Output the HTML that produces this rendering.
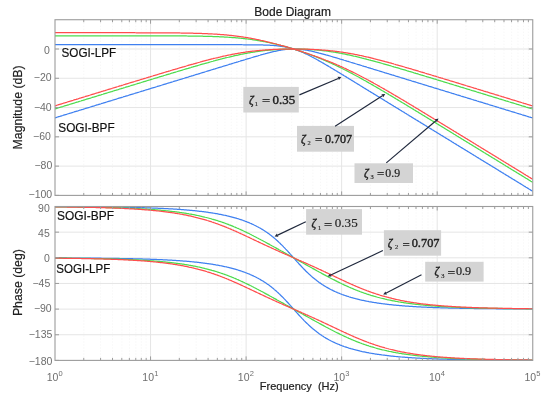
<!DOCTYPE html>
<html><head><meta charset="utf-8"><style>html,body{margin:0;padding:0;background:#fff;overflow:hidden}svg{display:block}</style></head>
<body><svg width="550" height="394" viewBox="0 0 550 394">
<defs><clipPath id="cm"><rect x="55.0" y="19.72" width="477.75" height="175.68"/></clipPath><clipPath id="cp"><rect x="55.0" y="206.5" width="477.75" height="153.89999999999998"/></clipPath></defs>
<rect width="550" height="394" fill="#fff"/>
<line x1="83.76" y1="19.72" x2="83.76" y2="195.4" stroke="#f1f1f1" stroke-width="0.8" stroke-dasharray="1,2"/>
<line x1="100.59" y1="19.72" x2="100.59" y2="195.4" stroke="#f1f1f1" stroke-width="0.8" stroke-dasharray="1,2"/>
<line x1="112.53" y1="19.72" x2="112.53" y2="195.4" stroke="#f1f1f1" stroke-width="0.8" stroke-dasharray="1,2"/>
<line x1="121.79" y1="19.72" x2="121.79" y2="195.4" stroke="#f1f1f1" stroke-width="0.8" stroke-dasharray="1,2"/>
<line x1="129.35" y1="19.72" x2="129.35" y2="195.4" stroke="#f1f1f1" stroke-width="0.8" stroke-dasharray="1,2"/>
<line x1="135.75" y1="19.72" x2="135.75" y2="195.4" stroke="#f1f1f1" stroke-width="0.8" stroke-dasharray="1,2"/>
<line x1="141.29" y1="19.72" x2="141.29" y2="195.4" stroke="#f1f1f1" stroke-width="0.8" stroke-dasharray="1,2"/>
<line x1="146.18" y1="19.72" x2="146.18" y2="195.4" stroke="#f1f1f1" stroke-width="0.8" stroke-dasharray="1,2"/>
<line x1="179.31" y1="19.72" x2="179.31" y2="195.4" stroke="#f1f1f1" stroke-width="0.8" stroke-dasharray="1,2"/>
<line x1="196.14" y1="19.72" x2="196.14" y2="195.4" stroke="#f1f1f1" stroke-width="0.8" stroke-dasharray="1,2"/>
<line x1="208.08" y1="19.72" x2="208.08" y2="195.4" stroke="#f1f1f1" stroke-width="0.8" stroke-dasharray="1,2"/>
<line x1="217.34" y1="19.72" x2="217.34" y2="195.4" stroke="#f1f1f1" stroke-width="0.8" stroke-dasharray="1,2"/>
<line x1="224.90" y1="19.72" x2="224.90" y2="195.4" stroke="#f1f1f1" stroke-width="0.8" stroke-dasharray="1,2"/>
<line x1="231.30" y1="19.72" x2="231.30" y2="195.4" stroke="#f1f1f1" stroke-width="0.8" stroke-dasharray="1,2"/>
<line x1="236.84" y1="19.72" x2="236.84" y2="195.4" stroke="#f1f1f1" stroke-width="0.8" stroke-dasharray="1,2"/>
<line x1="241.73" y1="19.72" x2="241.73" y2="195.4" stroke="#f1f1f1" stroke-width="0.8" stroke-dasharray="1,2"/>
<line x1="274.86" y1="19.72" x2="274.86" y2="195.4" stroke="#f1f1f1" stroke-width="0.8" stroke-dasharray="1,2"/>
<line x1="291.69" y1="19.72" x2="291.69" y2="195.4" stroke="#f1f1f1" stroke-width="0.8" stroke-dasharray="1,2"/>
<line x1="303.63" y1="19.72" x2="303.63" y2="195.4" stroke="#f1f1f1" stroke-width="0.8" stroke-dasharray="1,2"/>
<line x1="312.89" y1="19.72" x2="312.89" y2="195.4" stroke="#f1f1f1" stroke-width="0.8" stroke-dasharray="1,2"/>
<line x1="320.45" y1="19.72" x2="320.45" y2="195.4" stroke="#f1f1f1" stroke-width="0.8" stroke-dasharray="1,2"/>
<line x1="326.85" y1="19.72" x2="326.85" y2="195.4" stroke="#f1f1f1" stroke-width="0.8" stroke-dasharray="1,2"/>
<line x1="332.39" y1="19.72" x2="332.39" y2="195.4" stroke="#f1f1f1" stroke-width="0.8" stroke-dasharray="1,2"/>
<line x1="337.28" y1="19.72" x2="337.28" y2="195.4" stroke="#f1f1f1" stroke-width="0.8" stroke-dasharray="1,2"/>
<line x1="370.41" y1="19.72" x2="370.41" y2="195.4" stroke="#f1f1f1" stroke-width="0.8" stroke-dasharray="1,2"/>
<line x1="387.24" y1="19.72" x2="387.24" y2="195.4" stroke="#f1f1f1" stroke-width="0.8" stroke-dasharray="1,2"/>
<line x1="399.18" y1="19.72" x2="399.18" y2="195.4" stroke="#f1f1f1" stroke-width="0.8" stroke-dasharray="1,2"/>
<line x1="408.44" y1="19.72" x2="408.44" y2="195.4" stroke="#f1f1f1" stroke-width="0.8" stroke-dasharray="1,2"/>
<line x1="416.00" y1="19.72" x2="416.00" y2="195.4" stroke="#f1f1f1" stroke-width="0.8" stroke-dasharray="1,2"/>
<line x1="422.40" y1="19.72" x2="422.40" y2="195.4" stroke="#f1f1f1" stroke-width="0.8" stroke-dasharray="1,2"/>
<line x1="427.94" y1="19.72" x2="427.94" y2="195.4" stroke="#f1f1f1" stroke-width="0.8" stroke-dasharray="1,2"/>
<line x1="432.83" y1="19.72" x2="432.83" y2="195.4" stroke="#f1f1f1" stroke-width="0.8" stroke-dasharray="1,2"/>
<line x1="465.96" y1="19.72" x2="465.96" y2="195.4" stroke="#f1f1f1" stroke-width="0.8" stroke-dasharray="1,2"/>
<line x1="482.79" y1="19.72" x2="482.79" y2="195.4" stroke="#f1f1f1" stroke-width="0.8" stroke-dasharray="1,2"/>
<line x1="494.73" y1="19.72" x2="494.73" y2="195.4" stroke="#f1f1f1" stroke-width="0.8" stroke-dasharray="1,2"/>
<line x1="503.99" y1="19.72" x2="503.99" y2="195.4" stroke="#f1f1f1" stroke-width="0.8" stroke-dasharray="1,2"/>
<line x1="511.55" y1="19.72" x2="511.55" y2="195.4" stroke="#f1f1f1" stroke-width="0.8" stroke-dasharray="1,2"/>
<line x1="517.95" y1="19.72" x2="517.95" y2="195.4" stroke="#f1f1f1" stroke-width="0.8" stroke-dasharray="1,2"/>
<line x1="523.49" y1="19.72" x2="523.49" y2="195.4" stroke="#f1f1f1" stroke-width="0.8" stroke-dasharray="1,2"/>
<line x1="528.38" y1="19.72" x2="528.38" y2="195.4" stroke="#f1f1f1" stroke-width="0.8" stroke-dasharray="1,2"/>
<line x1="150.55" y1="19.72" x2="150.55" y2="195.4" stroke="#e5e5e5" stroke-width="1"/>
<line x1="246.10" y1="19.72" x2="246.10" y2="195.4" stroke="#e5e5e5" stroke-width="1"/>
<line x1="341.65" y1="19.72" x2="341.65" y2="195.4" stroke="#e5e5e5" stroke-width="1"/>
<line x1="437.20" y1="19.72" x2="437.20" y2="195.4" stroke="#e5e5e5" stroke-width="1"/>
<line x1="55.0" y1="49.00" x2="532.75" y2="49.00" stroke="#e5e5e5" stroke-width="1"/>
<line x1="55.0" y1="78.28" x2="532.75" y2="78.28" stroke="#e5e5e5" stroke-width="1"/>
<line x1="55.0" y1="107.56" x2="532.75" y2="107.56" stroke="#e5e5e5" stroke-width="1"/>
<line x1="55.0" y1="136.84" x2="532.75" y2="136.84" stroke="#e5e5e5" stroke-width="1"/>
<line x1="55.0" y1="166.12" x2="532.75" y2="166.12" stroke="#e5e5e5" stroke-width="1"/>
<line x1="83.76" y1="206.5" x2="83.76" y2="360.4" stroke="#f1f1f1" stroke-width="0.8" stroke-dasharray="1,2"/>
<line x1="100.59" y1="206.5" x2="100.59" y2="360.4" stroke="#f1f1f1" stroke-width="0.8" stroke-dasharray="1,2"/>
<line x1="112.53" y1="206.5" x2="112.53" y2="360.4" stroke="#f1f1f1" stroke-width="0.8" stroke-dasharray="1,2"/>
<line x1="121.79" y1="206.5" x2="121.79" y2="360.4" stroke="#f1f1f1" stroke-width="0.8" stroke-dasharray="1,2"/>
<line x1="129.35" y1="206.5" x2="129.35" y2="360.4" stroke="#f1f1f1" stroke-width="0.8" stroke-dasharray="1,2"/>
<line x1="135.75" y1="206.5" x2="135.75" y2="360.4" stroke="#f1f1f1" stroke-width="0.8" stroke-dasharray="1,2"/>
<line x1="141.29" y1="206.5" x2="141.29" y2="360.4" stroke="#f1f1f1" stroke-width="0.8" stroke-dasharray="1,2"/>
<line x1="146.18" y1="206.5" x2="146.18" y2="360.4" stroke="#f1f1f1" stroke-width="0.8" stroke-dasharray="1,2"/>
<line x1="179.31" y1="206.5" x2="179.31" y2="360.4" stroke="#f1f1f1" stroke-width="0.8" stroke-dasharray="1,2"/>
<line x1="196.14" y1="206.5" x2="196.14" y2="360.4" stroke="#f1f1f1" stroke-width="0.8" stroke-dasharray="1,2"/>
<line x1="208.08" y1="206.5" x2="208.08" y2="360.4" stroke="#f1f1f1" stroke-width="0.8" stroke-dasharray="1,2"/>
<line x1="217.34" y1="206.5" x2="217.34" y2="360.4" stroke="#f1f1f1" stroke-width="0.8" stroke-dasharray="1,2"/>
<line x1="224.90" y1="206.5" x2="224.90" y2="360.4" stroke="#f1f1f1" stroke-width="0.8" stroke-dasharray="1,2"/>
<line x1="231.30" y1="206.5" x2="231.30" y2="360.4" stroke="#f1f1f1" stroke-width="0.8" stroke-dasharray="1,2"/>
<line x1="236.84" y1="206.5" x2="236.84" y2="360.4" stroke="#f1f1f1" stroke-width="0.8" stroke-dasharray="1,2"/>
<line x1="241.73" y1="206.5" x2="241.73" y2="360.4" stroke="#f1f1f1" stroke-width="0.8" stroke-dasharray="1,2"/>
<line x1="274.86" y1="206.5" x2="274.86" y2="360.4" stroke="#f1f1f1" stroke-width="0.8" stroke-dasharray="1,2"/>
<line x1="291.69" y1="206.5" x2="291.69" y2="360.4" stroke="#f1f1f1" stroke-width="0.8" stroke-dasharray="1,2"/>
<line x1="303.63" y1="206.5" x2="303.63" y2="360.4" stroke="#f1f1f1" stroke-width="0.8" stroke-dasharray="1,2"/>
<line x1="312.89" y1="206.5" x2="312.89" y2="360.4" stroke="#f1f1f1" stroke-width="0.8" stroke-dasharray="1,2"/>
<line x1="320.45" y1="206.5" x2="320.45" y2="360.4" stroke="#f1f1f1" stroke-width="0.8" stroke-dasharray="1,2"/>
<line x1="326.85" y1="206.5" x2="326.85" y2="360.4" stroke="#f1f1f1" stroke-width="0.8" stroke-dasharray="1,2"/>
<line x1="332.39" y1="206.5" x2="332.39" y2="360.4" stroke="#f1f1f1" stroke-width="0.8" stroke-dasharray="1,2"/>
<line x1="337.28" y1="206.5" x2="337.28" y2="360.4" stroke="#f1f1f1" stroke-width="0.8" stroke-dasharray="1,2"/>
<line x1="370.41" y1="206.5" x2="370.41" y2="360.4" stroke="#f1f1f1" stroke-width="0.8" stroke-dasharray="1,2"/>
<line x1="387.24" y1="206.5" x2="387.24" y2="360.4" stroke="#f1f1f1" stroke-width="0.8" stroke-dasharray="1,2"/>
<line x1="399.18" y1="206.5" x2="399.18" y2="360.4" stroke="#f1f1f1" stroke-width="0.8" stroke-dasharray="1,2"/>
<line x1="408.44" y1="206.5" x2="408.44" y2="360.4" stroke="#f1f1f1" stroke-width="0.8" stroke-dasharray="1,2"/>
<line x1="416.00" y1="206.5" x2="416.00" y2="360.4" stroke="#f1f1f1" stroke-width="0.8" stroke-dasharray="1,2"/>
<line x1="422.40" y1="206.5" x2="422.40" y2="360.4" stroke="#f1f1f1" stroke-width="0.8" stroke-dasharray="1,2"/>
<line x1="427.94" y1="206.5" x2="427.94" y2="360.4" stroke="#f1f1f1" stroke-width="0.8" stroke-dasharray="1,2"/>
<line x1="432.83" y1="206.5" x2="432.83" y2="360.4" stroke="#f1f1f1" stroke-width="0.8" stroke-dasharray="1,2"/>
<line x1="465.96" y1="206.5" x2="465.96" y2="360.4" stroke="#f1f1f1" stroke-width="0.8" stroke-dasharray="1,2"/>
<line x1="482.79" y1="206.5" x2="482.79" y2="360.4" stroke="#f1f1f1" stroke-width="0.8" stroke-dasharray="1,2"/>
<line x1="494.73" y1="206.5" x2="494.73" y2="360.4" stroke="#f1f1f1" stroke-width="0.8" stroke-dasharray="1,2"/>
<line x1="503.99" y1="206.5" x2="503.99" y2="360.4" stroke="#f1f1f1" stroke-width="0.8" stroke-dasharray="1,2"/>
<line x1="511.55" y1="206.5" x2="511.55" y2="360.4" stroke="#f1f1f1" stroke-width="0.8" stroke-dasharray="1,2"/>
<line x1="517.95" y1="206.5" x2="517.95" y2="360.4" stroke="#f1f1f1" stroke-width="0.8" stroke-dasharray="1,2"/>
<line x1="523.49" y1="206.5" x2="523.49" y2="360.4" stroke="#f1f1f1" stroke-width="0.8" stroke-dasharray="1,2"/>
<line x1="528.38" y1="206.5" x2="528.38" y2="360.4" stroke="#f1f1f1" stroke-width="0.8" stroke-dasharray="1,2"/>
<line x1="150.55" y1="206.5" x2="150.55" y2="360.4" stroke="#e5e5e5" stroke-width="1"/>
<line x1="246.10" y1="206.5" x2="246.10" y2="360.4" stroke="#e5e5e5" stroke-width="1"/>
<line x1="341.65" y1="206.5" x2="341.65" y2="360.4" stroke="#e5e5e5" stroke-width="1"/>
<line x1="437.20" y1="206.5" x2="437.20" y2="360.4" stroke="#e5e5e5" stroke-width="1"/>
<line x1="55.0" y1="232.15" x2="532.75" y2="232.15" stroke="#e5e5e5" stroke-width="1"/>
<line x1="55.0" y1="257.80" x2="532.75" y2="257.80" stroke="#e5e5e5" stroke-width="1"/>
<line x1="55.0" y1="283.45" x2="532.75" y2="283.45" stroke="#e5e5e5" stroke-width="1"/>
<line x1="55.0" y1="309.10" x2="532.75" y2="309.10" stroke="#e5e5e5" stroke-width="1"/>
<line x1="55.0" y1="334.75" x2="532.75" y2="334.75" stroke="#e5e5e5" stroke-width="1"/>
<polyline points="55.0,44.72 56.0,44.72 56.9,44.72 57.9,44.72 58.8,44.72 59.8,44.72 60.7,44.72 61.7,44.72 62.7,44.72 63.6,44.72 64.6,44.72 65.5,44.72 66.5,44.72 67.4,44.72 68.4,44.72 69.4,44.72 70.3,44.72 71.3,44.72 72.2,44.72 73.2,44.72 74.1,44.72 75.1,44.72 76.1,44.72 77.0,44.72 78.0,44.72 78.9,44.72 79.9,44.72 80.9,44.72 81.8,44.72 82.8,44.72 83.7,44.72 84.7,44.72 85.6,44.72 86.6,44.72 87.6,44.72 88.5,44.72 89.5,44.72 90.4,44.72 91.4,44.72 92.3,44.72 93.3,44.72 94.3,44.72 95.2,44.72 96.2,44.72 97.1,44.72 98.1,44.72 99.0,44.72 100.0,44.72 101.0,44.72 101.9,44.72 102.9,44.72 103.8,44.72 104.8,44.72 105.7,44.72 106.7,44.72 107.7,44.72 108.6,44.72 109.6,44.72 110.5,44.72 111.5,44.72 112.4,44.72 113.4,44.72 114.4,44.72 115.3,44.72 116.3,44.72 117.2,44.72 118.2,44.72 119.1,44.72 120.1,44.72 121.1,44.72 122.0,44.72 123.0,44.72 123.9,44.72 124.9,44.72 125.8,44.72 126.8,44.72 127.8,44.72 128.7,44.72 129.7,44.72 130.6,44.72 131.6,44.72 132.6,44.72 133.5,44.72 134.5,44.72 135.4,44.72 136.4,44.72 137.3,44.72 138.3,44.72 139.3,44.72 140.2,44.72 141.2,44.72 142.1,44.72 143.1,44.72 144.0,44.72 145.0,44.72 146.0,44.72 146.9,44.72 147.9,44.72 148.8,44.72 149.8,44.72 150.7,44.72 151.7,44.72 152.7,44.72 153.6,44.72 154.6,44.72 155.5,44.72 156.5,44.72 157.4,44.72 158.4,44.72 159.4,44.72 160.3,44.72 161.3,44.72 162.2,44.72 163.2,44.72 164.1,44.72 165.1,44.72 166.1,44.72 167.0,44.72 168.0,44.72 168.9,44.72 169.9,44.72 170.8,44.72 171.8,44.72 172.8,44.72 173.7,44.72 174.7,44.72 175.6,44.72 176.6,44.72 177.5,44.72 178.5,44.72 179.5,44.72 180.4,44.72 181.4,44.72 182.3,44.72 183.3,44.72 184.3,44.72 185.2,44.72 186.2,44.72 187.1,44.72 188.1,44.72 189.0,44.72 190.0,44.72 191.0,44.72 191.9,44.72 192.9,44.72 193.8,44.72 194.8,44.72 195.7,44.72 196.7,44.72 197.7,44.72 198.6,44.72 199.6,44.72 200.5,44.72 201.5,44.72 202.4,44.72 203.4,44.72 204.4,44.72 205.3,44.72 206.3,44.72 207.2,44.72 208.2,44.72 209.1,44.72 210.1,44.72 211.1,44.72 212.0,44.72 213.0,44.72 213.9,44.72 214.9,44.72 215.8,44.72 216.8,44.72 217.8,44.72 218.7,44.72 219.7,44.72 220.6,44.72 221.6,44.72 222.5,44.72 223.5,44.72 224.5,44.72 225.4,44.72 226.4,44.72 227.3,44.72 228.3,44.72 229.2,44.72 230.2,44.72 231.2,44.72 232.1,44.73 233.1,44.73 234.0,44.73 235.0,44.73 236.0,44.73 236.9,44.73 237.9,44.73 238.8,44.74 239.8,44.74 240.7,44.74 241.7,44.74 242.7,44.75 243.6,44.75 244.6,44.75 245.5,44.76 246.5,44.76 247.4,44.77 248.4,44.77 249.4,44.78 250.3,44.79 251.3,44.80 252.2,44.80 253.2,44.81 254.1,44.82 255.1,44.84 256.1,44.85 257.0,44.86 258.0,44.88 258.9,44.90 259.9,44.91 260.8,44.94 261.8,44.96 262.8,44.98 263.7,45.01 264.7,45.04 265.6,45.07 266.6,45.11 267.5,45.15 268.5,45.19 269.5,45.24 270.4,45.29 271.4,45.35 272.3,45.41 273.3,45.48 274.2,45.55 275.2,45.63 276.2,45.71 277.1,45.81 278.1,45.91 279.0,46.02 280.0,46.13 280.9,46.26 281.9,46.40 282.9,46.54 283.8,46.70 284.8,46.87 285.7,47.04 286.7,47.24 287.7,47.44 288.6,47.66 289.6,47.89 290.5,48.13 291.5,48.38 292.4,48.65 293.4,48.94 294.4,49.23 295.3,49.55 296.3,49.87 297.2,50.21 298.2,50.56 299.1,50.93 300.1,51.30 301.1,51.69 302.0,52.10 303.0,52.51 303.9,52.94 304.9,53.37 305.8,53.82 306.8,54.27 307.8,54.74 308.7,55.21 309.7,55.70 310.6,56.19 311.6,56.69 312.5,57.19 313.5,57.70 314.5,58.22 315.4,58.74 316.4,59.27 317.3,59.81 318.3,60.34 319.2,60.88 320.2,61.43 321.2,61.98 322.1,62.53 323.1,63.09 324.0,63.65 325.0,64.21 325.9,64.77 326.9,65.33 327.9,65.90 328.8,66.47 329.8,67.04 330.7,67.61 331.7,68.19 332.7,68.76 333.6,69.34 334.6,69.91 335.5,70.49 336.5,71.07 337.4,71.65 338.4,72.23 339.4,72.81 340.3,73.39 341.3,73.97 342.2,74.55 343.2,75.14 344.1,75.72 345.1,76.30 346.1,76.89 347.0,77.47 348.0,78.06 348.9,78.64 349.9,79.23 350.8,79.81 351.8,80.40 352.8,80.98 353.7,81.57 354.7,82.15 355.6,82.74 356.6,83.32 357.5,83.91 358.5,84.50 359.5,85.08 360.4,85.67 361.4,86.26 362.3,86.84 363.3,87.43 364.2,88.01 365.2,88.60 366.2,89.19 367.1,89.77 368.1,90.36 369.0,90.95 370.0,91.53 370.9,92.12 371.9,92.71 372.9,93.29 373.8,93.88 374.8,94.47 375.7,95.05 376.7,95.64 377.6,96.23 378.6,96.82 379.6,97.40 380.5,97.99 381.5,98.58 382.4,99.16 383.4,99.75 384.4,100.34 385.3,100.92 386.3,101.51 387.2,102.10 388.2,102.68 389.1,103.27 390.1,103.86 391.1,104.44 392.0,105.03 393.0,105.62 393.9,106.20 394.9,106.79 395.8,107.38 396.8,107.96 397.8,108.55 398.7,109.14 399.7,109.73 400.6,110.31 401.6,110.90 402.5,111.49 403.5,112.07 404.5,112.66 405.4,113.25 406.4,113.83 407.3,114.42 408.3,115.01 409.2,115.59 410.2,116.18 411.2,116.77 412.1,117.35 413.1,117.94 414.0,118.53 415.0,119.11 415.9,119.70 416.9,120.29 417.9,120.87 418.8,121.46 419.8,122.05 420.7,122.64 421.7,123.22 422.6,123.81 423.6,124.40 424.6,124.98 425.5,125.57 426.5,126.16 427.4,126.74 428.4,127.33 429.3,127.92 430.3,128.50 431.3,129.09 432.2,129.68 433.2,130.26 434.1,130.85 435.1,131.44 436.1,132.02 437.0,132.61 438.0,133.20 438.9,133.78 439.9,134.37 440.8,134.96 441.8,135.54 442.8,136.13 443.7,136.72 444.7,137.30 445.6,137.89 446.6,138.48 447.5,139.07 448.5,139.65 449.5,140.24 450.4,140.83 451.4,141.41 452.3,142.00 453.3,142.59 454.2,143.17 455.2,143.76 456.2,144.35 457.1,144.93 458.1,145.52 459.0,146.11 460.0,146.69 460.9,147.28 461.9,147.87 462.9,148.45 463.8,149.04 464.8,149.63 465.7,150.21 466.7,150.80 467.6,151.39 468.6,151.97 469.6,152.56 470.5,153.15 471.5,153.73 472.4,154.32 473.4,154.91 474.3,155.50 475.3,156.08 476.3,156.67 477.2,157.26 478.2,157.84 479.1,158.43 480.1,159.02 481.0,159.60 482.0,160.19 483.0,160.78 483.9,161.36 484.9,161.95 485.8,162.54 486.8,163.12 487.8,163.71 488.7,164.30 489.7,164.88 490.6,165.47 491.6,166.06 492.5,166.64 493.5,167.23 494.5,167.82 495.4,168.40 496.4,168.99 497.3,169.58 498.3,170.16 499.2,170.75 500.2,171.34 501.2,171.92 502.1,172.51 503.1,173.10 504.0,173.69 505.0,174.27 505.9,174.86 506.9,175.45 507.9,176.03 508.8,176.62 509.8,177.21 510.7,177.79 511.7,178.38 512.6,178.97 513.6,179.55 514.6,180.14 515.5,180.73 516.5,181.31 517.4,181.90 518.4,182.49 519.3,183.07 520.3,183.66 521.3,184.25 522.2,184.83 523.2,185.42 524.1,186.01 525.1,186.59 526.0,187.18 527.0,187.77 528.0,188.35 528.9,188.94 529.9,189.53 530.8,190.11 531.8,190.70 532.8,191.29" fill="none" stroke="#3f80f0" stroke-width="1.25" stroke-linejoin="round" clip-path="url(#cm)"/>
<polyline points="55.0,117.84 56.0,117.54 56.9,117.25 57.9,116.96 58.8,116.66 59.8,116.37 60.7,116.08 61.7,115.78 62.7,115.49 63.6,115.20 64.6,114.90 65.5,114.61 66.5,114.32 67.4,114.02 68.4,113.73 69.4,113.44 70.3,113.14 71.3,112.85 72.2,112.56 73.2,112.26 74.1,111.97 75.1,111.68 76.1,111.38 77.0,111.09 78.0,110.80 78.9,110.50 79.9,110.21 80.9,109.92 81.8,109.62 82.8,109.33 83.7,109.04 84.7,108.74 85.6,108.45 86.6,108.16 87.6,107.86 88.5,107.57 89.5,107.28 90.4,106.98 91.4,106.69 92.3,106.40 93.3,106.10 94.3,105.81 95.2,105.52 96.2,105.22 97.1,104.93 98.1,104.64 99.0,104.34 100.0,104.05 101.0,103.76 101.9,103.46 102.9,103.17 103.8,102.88 104.8,102.58 105.7,102.29 106.7,102.00 107.7,101.70 108.6,101.41 109.6,101.11 110.5,100.82 111.5,100.53 112.4,100.23 113.4,99.94 114.4,99.65 115.3,99.35 116.3,99.06 117.2,98.77 118.2,98.47 119.1,98.18 120.1,97.89 121.1,97.59 122.0,97.30 123.0,97.01 123.9,96.71 124.9,96.42 125.8,96.13 126.8,95.83 127.8,95.54 128.7,95.25 129.7,94.95 130.6,94.66 131.6,94.37 132.6,94.07 133.5,93.78 134.5,93.49 135.4,93.19 136.4,92.90 137.3,92.61 138.3,92.31 139.3,92.02 140.2,91.73 141.2,91.43 142.1,91.14 143.1,90.85 144.0,90.55 145.0,90.26 146.0,89.97 146.9,89.67 147.9,89.38 148.8,89.09 149.8,88.79 150.7,88.50 151.7,88.21 152.7,87.91 153.6,87.62 154.6,87.33 155.5,87.03 156.5,86.74 157.4,86.45 158.4,86.15 159.4,85.86 160.3,85.56 161.3,85.27 162.2,84.98 163.2,84.68 164.1,84.39 165.1,84.10 166.1,83.80 167.0,83.51 168.0,83.22 168.9,82.92 169.9,82.63 170.8,82.34 171.8,82.04 172.8,81.75 173.7,81.46 174.7,81.16 175.6,80.87 176.6,80.58 177.5,80.28 178.5,79.99 179.5,79.70 180.4,79.40 181.4,79.11 182.3,78.82 183.3,78.52 184.3,78.23 185.2,77.94 186.2,77.64 187.1,77.35 188.1,77.06 189.0,76.76 190.0,76.47 191.0,76.18 191.9,75.88 192.9,75.59 193.8,75.30 194.8,75.00 195.7,74.71 196.7,74.41 197.7,74.12 198.6,73.83 199.6,73.53 200.5,73.24 201.5,72.95 202.4,72.65 203.4,72.36 204.4,72.07 205.3,71.77 206.3,71.48 207.2,71.19 208.2,70.89 209.1,70.60 210.1,70.31 211.1,70.01 212.0,69.72 213.0,69.43 213.9,69.13 214.9,68.84 215.8,68.55 216.8,68.25 217.8,67.96 218.7,67.67 219.7,67.37 220.6,67.08 221.6,66.79 222.5,66.49 223.5,66.20 224.5,65.91 225.4,65.61 226.4,65.32 227.3,65.03 228.3,64.74 229.2,64.44 230.2,64.15 231.2,63.86 232.1,63.57 233.1,63.27 234.0,62.98 235.0,62.69 236.0,62.40 236.9,62.10 237.9,61.81 238.8,61.52 239.8,61.23 240.7,60.94 241.7,60.65 242.7,60.36 243.6,60.07 244.6,59.78 245.5,59.49 246.5,59.20 247.4,58.91 248.4,58.63 249.4,58.34 250.3,58.05 251.3,57.77 252.2,57.48 253.2,57.20 254.1,56.92 255.1,56.63 256.1,56.35 257.0,56.08 258.0,55.80 258.9,55.52 259.9,55.25 260.8,54.97 261.8,54.70 262.8,54.44 263.7,54.17 264.7,53.91 265.6,53.65 266.6,53.39 267.5,53.13 268.5,52.88 269.5,52.64 270.4,52.40 271.4,52.16 272.3,51.93 273.3,51.70 274.2,51.48 275.2,51.27 276.2,51.06 277.1,50.86 278.1,50.66 279.0,50.48 280.0,50.30 280.9,50.14 281.9,49.98 282.9,49.83 283.8,49.69 284.8,49.57 285.7,49.46 286.7,49.35 287.7,49.26 288.6,49.19 289.6,49.12 290.5,49.07 291.5,49.03 292.4,49.01 293.4,49.00 294.4,49.00 295.3,49.02 296.3,49.05 297.2,49.10 298.2,49.16 299.1,49.23 300.1,49.31 301.1,49.41 302.0,49.52 303.0,49.64 303.9,49.77 304.9,49.91 305.8,50.07 306.8,50.23 307.8,50.40 308.7,50.58 309.7,50.77 310.6,50.97 311.6,51.18 312.5,51.39 313.5,51.61 314.5,51.83 315.4,52.06 316.4,52.29 317.3,52.53 318.3,52.78 319.2,53.03 320.2,53.28 321.2,53.53 322.1,53.79 323.1,54.06 324.0,54.32 325.0,54.59 325.9,54.86 326.9,55.13 327.9,55.40 328.8,55.68 329.8,55.96 330.7,56.23 331.7,56.51 332.7,56.79 333.6,57.08 334.6,57.36 335.5,57.64 336.5,57.93 337.4,58.22 338.4,58.50 339.4,58.79 340.3,59.08 341.3,59.37 342.2,59.65 343.2,59.94 344.1,60.23 345.1,60.52 346.1,60.81 347.0,61.11 348.0,61.40 348.9,61.69 349.9,61.98 350.8,62.27 351.8,62.56 352.8,62.85 353.7,63.15 354.7,63.44 355.6,63.73 356.6,64.02 357.5,64.32 358.5,64.61 359.5,64.90 360.4,65.20 361.4,65.49 362.3,65.78 363.3,66.07 364.2,66.37 365.2,66.66 366.2,66.95 367.1,67.25 368.1,67.54 369.0,67.83 370.0,68.13 370.9,68.42 371.9,68.71 372.9,69.01 373.8,69.30 374.8,69.59 375.7,69.89 376.7,70.18 377.6,70.47 378.6,70.77 379.6,71.06 380.5,71.35 381.5,71.65 382.4,71.94 383.4,72.23 384.4,72.53 385.3,72.82 386.3,73.11 387.2,73.41 388.2,73.70 389.1,73.99 390.1,74.29 391.1,74.58 392.0,74.88 393.0,75.17 393.9,75.46 394.9,75.76 395.8,76.05 396.8,76.34 397.8,76.64 398.7,76.93 399.7,77.22 400.6,77.52 401.6,77.81 402.5,78.10 403.5,78.40 404.5,78.69 405.4,78.98 406.4,79.28 407.3,79.57 408.3,79.86 409.2,80.16 410.2,80.45 411.2,80.74 412.1,81.04 413.1,81.33 414.0,81.62 415.0,81.92 415.9,82.21 416.9,82.50 417.9,82.80 418.8,83.09 419.8,83.38 420.7,83.68 421.7,83.97 422.6,84.26 423.6,84.56 424.6,84.85 425.5,85.15 426.5,85.44 427.4,85.73 428.4,86.03 429.3,86.32 430.3,86.61 431.3,86.91 432.2,87.20 433.2,87.49 434.1,87.79 435.1,88.08 436.1,88.37 437.0,88.67 438.0,88.96 438.9,89.25 439.9,89.55 440.8,89.84 441.8,90.13 442.8,90.43 443.7,90.72 444.7,91.01 445.6,91.31 446.6,91.60 447.5,91.89 448.5,92.19 449.5,92.48 450.4,92.77 451.4,93.07 452.3,93.36 453.3,93.65 454.2,93.95 455.2,94.24 456.2,94.53 457.1,94.83 458.1,95.12 459.0,95.41 460.0,95.71 460.9,96.00 461.9,96.29 462.9,96.59 463.8,96.88 464.8,97.17 465.7,97.47 466.7,97.76 467.6,98.05 468.6,98.35 469.6,98.64 470.5,98.93 471.5,99.23 472.4,99.52 473.4,99.81 474.3,100.11 475.3,100.40 476.3,100.69 477.2,100.99 478.2,101.28 479.1,101.58 480.1,101.87 481.0,102.16 482.0,102.46 483.0,102.75 483.9,103.04 484.9,103.34 485.8,103.63 486.8,103.92 487.8,104.22 488.7,104.51 489.7,104.80 490.6,105.10 491.6,105.39 492.5,105.68 493.5,105.98 494.5,106.27 495.4,106.56 496.4,106.86 497.3,107.15 498.3,107.44 499.2,107.74 500.2,108.03 501.2,108.32 502.1,108.62 503.1,108.91 504.0,109.20 505.0,109.50 505.9,109.79 506.9,110.08 507.9,110.38 508.8,110.67 509.8,110.96 510.7,111.26 511.7,111.55 512.6,111.84 513.6,112.14 514.6,112.43 515.5,112.72 516.5,113.02 517.4,113.31 518.4,113.60 519.3,113.90 520.3,114.19 521.3,114.48 522.2,114.78 523.2,115.07 524.1,115.36 525.1,115.66 526.0,115.95 527.0,116.24 528.0,116.54 528.9,116.83 529.9,117.12 530.8,117.42 531.8,117.71 532.8,118.00" fill="none" stroke="#3f80f0" stroke-width="1.25" stroke-linejoin="round" clip-path="url(#cm)"/>
<polyline points="55.0,206.65 56.0,206.65 56.9,206.65 57.9,206.66 58.8,206.66 59.8,206.66 60.7,206.67 61.7,206.67 62.7,206.68 63.6,206.68 64.6,206.68 65.5,206.69 66.5,206.69 67.4,206.70 68.4,206.70 69.4,206.71 70.3,206.71 71.3,206.72 72.2,206.72 73.2,206.73 74.1,206.73 75.1,206.74 76.1,206.74 77.0,206.75 78.0,206.75 78.9,206.76 79.9,206.77 80.9,206.77 81.8,206.78 82.8,206.78 83.7,206.79 84.7,206.80 85.6,206.80 86.6,206.81 87.6,206.82 88.5,206.83 89.5,206.83 90.4,206.84 91.4,206.85 92.3,206.86 93.3,206.87 94.3,206.87 95.2,206.88 96.2,206.89 97.1,206.90 98.1,206.91 99.0,206.92 100.0,206.93 101.0,206.94 101.9,206.95 102.9,206.96 103.8,206.97 104.8,206.98 105.7,206.99 106.7,207.01 107.7,207.02 108.6,207.03 109.6,207.04 110.5,207.05 111.5,207.07 112.4,207.08 113.4,207.09 114.4,207.11 115.3,207.12 116.3,207.14 117.2,207.15 118.2,207.17 119.1,207.18 120.1,207.20 121.1,207.22 122.0,207.23 123.0,207.25 123.9,207.27 124.9,207.28 125.8,207.30 126.8,207.32 127.8,207.34 128.7,207.36 129.7,207.38 130.6,207.40 131.6,207.42 132.6,207.44 133.5,207.47 134.5,207.49 135.4,207.51 136.4,207.53 137.3,207.56 138.3,207.58 139.3,207.61 140.2,207.63 141.2,207.66 142.1,207.69 143.1,207.72 144.0,207.74 145.0,207.77 146.0,207.80 146.9,207.83 147.9,207.86 148.8,207.90 149.8,207.93 150.7,207.96 151.7,208.00 152.7,208.03 153.6,208.07 154.6,208.10 155.5,208.14 156.5,208.18 157.4,208.22 158.4,208.26 159.4,208.30 160.3,208.34 161.3,208.39 162.2,208.43 163.2,208.47 164.1,208.52 165.1,208.57 166.1,208.62 167.0,208.67 168.0,208.72 168.9,208.77 169.9,208.82 170.8,208.88 171.8,208.93 172.8,208.99 173.7,209.05 174.7,209.11 175.6,209.17 176.6,209.23 177.5,209.29 178.5,209.36 179.5,209.43 180.4,209.49 181.4,209.56 182.3,209.64 183.3,209.71 184.3,209.78 185.2,209.86 186.2,209.94 187.1,210.02 188.1,210.10 189.0,210.19 190.0,210.27 191.0,210.36 191.9,210.45 192.9,210.55 193.8,210.64 194.8,210.74 195.7,210.84 196.7,210.94 197.7,211.04 198.6,211.15 199.6,211.26 200.5,211.37 201.5,211.49 202.4,211.60 203.4,211.72 204.4,211.85 205.3,211.97 206.3,212.10 207.2,212.23 208.2,212.37 209.1,212.51 210.1,212.65 211.1,212.80 212.0,212.94 213.0,213.10 213.9,213.25 214.9,213.41 215.8,213.58 216.8,213.74 217.8,213.92 218.7,214.09 219.7,214.27 220.6,214.46 221.6,214.65 222.5,214.84 223.5,215.04 224.5,215.24 225.4,215.45 226.4,215.67 227.3,215.89 228.3,216.11 229.2,216.34 230.2,216.58 231.2,216.82 232.1,217.07 233.1,217.33 234.0,217.59 235.0,217.86 236.0,218.13 236.9,218.42 237.9,218.71 238.8,219.00 239.8,219.31 240.7,219.62 241.7,219.94 242.7,220.27 243.6,220.61 244.6,220.96 245.5,221.32 246.5,221.68 247.4,222.06 248.4,222.45 249.4,222.84 250.3,223.25 251.3,223.67 252.2,224.10 253.2,224.54 254.1,225.00 255.1,225.46 256.1,225.94 257.0,226.44 258.0,226.95 258.9,227.47 259.9,228.00 260.8,228.55 261.8,229.12 262.8,229.70 263.7,230.30 264.7,230.92 265.6,231.55 266.6,232.20 267.5,232.87 268.5,233.55 269.5,234.25 270.4,234.98 271.4,235.72 272.3,236.48 273.3,237.26 274.2,238.06 275.2,238.88 276.2,239.72 277.1,240.58 278.1,241.45 279.0,242.35 280.0,243.26 280.9,244.20 281.9,245.15 282.9,246.12 283.8,247.10 284.8,248.10 285.7,249.11 286.7,250.14 287.7,251.18 288.6,252.23 289.6,253.28 290.5,254.35 291.5,255.42 292.4,256.49 293.4,257.57 294.4,258.64 295.3,259.72 296.3,260.79 297.2,261.86 298.2,262.92 299.1,263.97 300.1,265.01 301.1,266.04 302.0,267.06 303.0,268.07 303.9,269.06 304.9,270.04 305.8,270.99 306.8,271.94 307.8,272.86 308.7,273.76 309.7,274.65 310.6,275.52 311.6,276.36 312.5,277.19 313.5,278.00 314.5,278.79 315.4,279.56 316.4,280.31 317.3,281.04 318.3,281.75 319.2,282.44 320.2,283.12 321.2,283.77 322.1,284.41 323.1,285.04 324.0,285.64 325.0,286.23 325.9,286.80 326.9,287.36 327.9,287.90 328.8,288.43 329.8,288.94 330.7,289.44 331.7,289.93 332.7,290.40 333.6,290.86 334.6,291.31 335.5,291.75 336.5,292.17 337.4,292.58 338.4,292.99 339.4,293.38 340.3,293.76 341.3,294.13 342.2,294.49 343.2,294.84 344.1,295.18 345.1,295.52 346.1,295.84 347.0,296.16 348.0,296.47 348.9,296.77 349.9,297.06 350.8,297.35 351.8,297.62 352.8,297.90 353.7,298.16 354.7,298.42 355.6,298.67 356.6,298.92 357.5,299.15 358.5,299.39 359.5,299.62 360.4,299.84 361.4,300.05 362.3,300.27 363.3,300.47 364.2,300.67 365.2,300.87 366.2,301.06 367.1,301.25 368.1,301.43 369.0,301.61 370.0,301.78 370.9,301.95 371.9,302.12 372.9,302.28 373.8,302.44 374.8,302.59 375.7,302.74 376.7,302.89 377.6,303.03 378.6,303.17 379.6,303.31 380.5,303.44 381.5,303.57 382.4,303.70 383.4,303.82 384.4,303.94 385.3,304.06 386.3,304.18 387.2,304.29 388.2,304.40 389.1,304.51 390.1,304.62 391.1,304.72 392.0,304.82 393.0,304.92 393.9,305.01 394.9,305.11 395.8,305.20 396.8,305.29 397.8,305.38 398.7,305.46 399.7,305.54 400.6,305.63 401.6,305.70 402.5,305.78 403.5,305.86 404.5,305.93 405.4,306.01 406.4,306.08 407.3,306.15 408.3,306.21 409.2,306.28 410.2,306.34 411.2,306.41 412.1,306.47 413.1,306.53 414.0,306.59 415.0,306.64 415.9,306.70 416.9,306.76 417.9,306.81 418.8,306.86 419.8,306.91 420.7,306.96 421.7,307.01 422.6,307.06 423.6,307.11 424.6,307.15 425.5,307.20 426.5,307.24 427.4,307.28 428.4,307.32 429.3,307.36 430.3,307.40 431.3,307.44 432.2,307.48 433.2,307.52 434.1,307.55 435.1,307.59 436.1,307.62 437.0,307.66 438.0,307.69 438.9,307.72 439.9,307.75 440.8,307.78 441.8,307.81 442.8,307.84 443.7,307.87 444.7,307.90 445.6,307.93 446.6,307.95 447.5,307.98 448.5,308.01 449.5,308.03 450.4,308.06 451.4,308.08 452.3,308.10 453.3,308.12 454.2,308.15 455.2,308.17 456.2,308.19 457.1,308.21 458.1,308.23 459.0,308.25 460.0,308.27 460.9,308.29 461.9,308.31 462.9,308.33 463.8,308.34 464.8,308.36 465.7,308.38 466.7,308.39 467.6,308.41 468.6,308.43 469.6,308.44 470.5,308.46 471.5,308.47 472.4,308.49 473.4,308.50 474.3,308.51 475.3,308.53 476.3,308.54 477.2,308.55 478.2,308.56 479.1,308.58 480.1,308.59 481.0,308.60 482.0,308.61 483.0,308.62 483.9,308.63 484.9,308.64 485.8,308.66 486.8,308.67 487.8,308.68 488.7,308.68 489.7,308.69 490.6,308.70 491.6,308.71 492.5,308.72 493.5,308.73 494.5,308.74 495.4,308.75 496.4,308.75 497.3,308.76 498.3,308.77 499.2,308.78 500.2,308.79 501.2,308.79 502.1,308.80 503.1,308.81 504.0,308.81 505.0,308.82 505.9,308.83 506.9,308.83 507.9,308.84 508.8,308.84 509.8,308.85 510.7,308.86 511.7,308.86 512.6,308.87 513.6,308.87 514.6,308.88 515.5,308.88 516.5,308.89 517.4,308.89 518.4,308.90 519.3,308.90 520.3,308.91 521.3,308.91 522.2,308.91 523.2,308.92 524.1,308.92 525.1,308.93 526.0,308.93 527.0,308.94 528.0,308.94 528.9,308.94 529.9,308.95 530.8,308.95 531.8,308.95 532.8,308.96" fill="none" stroke="#3f80f0" stroke-width="1.25" stroke-linejoin="round" clip-path="url(#cp)"/>
<polyline points="55.0,257.95 56.0,257.95 56.9,257.95 57.9,257.96 58.8,257.96 59.8,257.96 60.7,257.97 61.7,257.97 62.7,257.98 63.6,257.98 64.6,257.98 65.5,257.99 66.5,257.99 67.4,258.00 68.4,258.00 69.4,258.01 70.3,258.01 71.3,258.02 72.2,258.02 73.2,258.03 74.1,258.03 75.1,258.04 76.1,258.04 77.0,258.05 78.0,258.05 78.9,258.06 79.9,258.07 80.9,258.07 81.8,258.08 82.8,258.08 83.7,258.09 84.7,258.10 85.6,258.10 86.6,258.11 87.6,258.12 88.5,258.13 89.5,258.13 90.4,258.14 91.4,258.15 92.3,258.16 93.3,258.17 94.3,258.17 95.2,258.18 96.2,258.19 97.1,258.20 98.1,258.21 99.0,258.22 100.0,258.23 101.0,258.24 101.9,258.25 102.9,258.26 103.8,258.27 104.8,258.28 105.7,258.29 106.7,258.31 107.7,258.32 108.6,258.33 109.6,258.34 110.5,258.35 111.5,258.37 112.4,258.38 113.4,258.39 114.4,258.41 115.3,258.42 116.3,258.44 117.2,258.45 118.2,258.47 119.1,258.48 120.1,258.50 121.1,258.52 122.0,258.53 123.0,258.55 123.9,258.57 124.9,258.58 125.8,258.60 126.8,258.62 127.8,258.64 128.7,258.66 129.7,258.68 130.6,258.70 131.6,258.72 132.6,258.74 133.5,258.77 134.5,258.79 135.4,258.81 136.4,258.83 137.3,258.86 138.3,258.88 139.3,258.91 140.2,258.93 141.2,258.96 142.1,258.99 143.1,259.02 144.0,259.04 145.0,259.07 146.0,259.10 146.9,259.13 147.9,259.16 148.8,259.20 149.8,259.23 150.7,259.26 151.7,259.30 152.7,259.33 153.6,259.37 154.6,259.40 155.5,259.44 156.5,259.48 157.4,259.52 158.4,259.56 159.4,259.60 160.3,259.64 161.3,259.69 162.2,259.73 163.2,259.77 164.1,259.82 165.1,259.87 166.1,259.92 167.0,259.97 168.0,260.02 168.9,260.07 169.9,260.12 170.8,260.18 171.8,260.23 172.8,260.29 173.7,260.35 174.7,260.41 175.6,260.47 176.6,260.53 177.5,260.59 178.5,260.66 179.5,260.73 180.4,260.79 181.4,260.86 182.3,260.94 183.3,261.01 184.3,261.08 185.2,261.16 186.2,261.24 187.1,261.32 188.1,261.40 189.0,261.49 190.0,261.57 191.0,261.66 191.9,261.75 192.9,261.85 193.8,261.94 194.8,262.04 195.7,262.14 196.7,262.24 197.7,262.34 198.6,262.45 199.6,262.56 200.5,262.67 201.5,262.79 202.4,262.90 203.4,263.02 204.4,263.15 205.3,263.27 206.3,263.40 207.2,263.53 208.2,263.67 209.1,263.81 210.1,263.95 211.1,264.10 212.0,264.24 213.0,264.40 213.9,264.55 214.9,264.71 215.8,264.88 216.8,265.04 217.8,265.22 218.7,265.39 219.7,265.57 220.6,265.76 221.6,265.95 222.5,266.14 223.5,266.34 224.5,266.54 225.4,266.75 226.4,266.97 227.3,267.19 228.3,267.41 229.2,267.64 230.2,267.88 231.2,268.12 232.1,268.37 233.1,268.63 234.0,268.89 235.0,269.16 236.0,269.43 236.9,269.72 237.9,270.01 238.8,270.30 239.8,270.61 240.7,270.92 241.7,271.24 242.7,271.57 243.6,271.91 244.6,272.26 245.5,272.62 246.5,272.98 247.4,273.36 248.4,273.75 249.4,274.14 250.3,274.55 251.3,274.97 252.2,275.40 253.2,275.84 254.1,276.30 255.1,276.76 256.1,277.24 257.0,277.74 258.0,278.25 258.9,278.77 259.9,279.30 260.8,279.85 261.8,280.42 262.8,281.00 263.7,281.60 264.7,282.22 265.6,282.85 266.6,283.50 267.5,284.17 268.5,284.85 269.5,285.55 270.4,286.28 271.4,287.02 272.3,287.78 273.3,288.56 274.2,289.36 275.2,290.18 276.2,291.02 277.1,291.88 278.1,292.75 279.0,293.65 280.0,294.56 280.9,295.50 281.9,296.45 282.9,297.42 283.8,298.40 284.8,299.40 285.7,300.41 286.7,301.44 287.7,302.48 288.6,303.53 289.6,304.58 290.5,305.65 291.5,306.72 292.4,307.79 293.4,308.87 294.4,309.94 295.3,311.02 296.3,312.09 297.2,313.16 298.2,314.22 299.1,315.27 300.1,316.31 301.1,317.34 302.0,318.36 303.0,319.37 303.9,320.36 304.9,321.34 305.8,322.29 306.8,323.24 307.8,324.16 308.7,325.06 309.7,325.95 310.6,326.82 311.6,327.66 312.5,328.49 313.5,329.30 314.5,330.09 315.4,330.86 316.4,331.61 317.3,332.34 318.3,333.05 319.2,333.74 320.2,334.42 321.2,335.07 322.1,335.71 323.1,336.34 324.0,336.94 325.0,337.53 325.9,338.10 326.9,338.66 327.9,339.20 328.8,339.73 329.8,340.24 330.7,340.74 331.7,341.23 332.7,341.70 333.6,342.16 334.6,342.61 335.5,343.05 336.5,343.47 337.4,343.88 338.4,344.29 339.4,344.68 340.3,345.06 341.3,345.43 342.2,345.79 343.2,346.14 344.1,346.48 345.1,346.82 346.1,347.14 347.0,347.46 348.0,347.77 348.9,348.07 349.9,348.36 350.8,348.65 351.8,348.92 352.8,349.20 353.7,349.46 354.7,349.72 355.6,349.97 356.6,350.22 357.5,350.45 358.5,350.69 359.5,350.92 360.4,351.14 361.4,351.35 362.3,351.57 363.3,351.77 364.2,351.97 365.2,352.17 366.2,352.36 367.1,352.55 368.1,352.73 369.0,352.91 370.0,353.08 370.9,353.25 371.9,353.42 372.9,353.58 373.8,353.74 374.8,353.89 375.7,354.04 376.7,354.19 377.6,354.33 378.6,354.47 379.6,354.61 380.5,354.74 381.5,354.87 382.4,355.00 383.4,355.12 384.4,355.24 385.3,355.36 386.3,355.48 387.2,355.59 388.2,355.70 389.1,355.81 390.1,355.92 391.1,356.02 392.0,356.12 393.0,356.22 393.9,356.31 394.9,356.41 395.8,356.50 396.8,356.59 397.8,356.68 398.7,356.76 399.7,356.84 400.6,356.93 401.6,357.00 402.5,357.08 403.5,357.16 404.5,357.23 405.4,357.31 406.4,357.38 407.3,357.45 408.3,357.51 409.2,357.58 410.2,357.64 411.2,357.71 412.1,357.77 413.1,357.83 414.0,357.89 415.0,357.94 415.9,358.00 416.9,358.06 417.9,358.11 418.8,358.16 419.8,358.21 420.7,358.26 421.7,358.31 422.6,358.36 423.6,358.41 424.6,358.45 425.5,358.50 426.5,358.54 427.4,358.58 428.4,358.62 429.3,358.66 430.3,358.70 431.3,358.74 432.2,358.78 433.2,358.82 434.1,358.85 435.1,358.89 436.1,358.92 437.0,358.96 438.0,358.99 438.9,359.02 439.9,359.05 440.8,359.08 441.8,359.11 442.8,359.14 443.7,359.17 444.7,359.20 445.6,359.23 446.6,359.25 447.5,359.28 448.5,359.31 449.5,359.33 450.4,359.36 451.4,359.38 452.3,359.40 453.3,359.42 454.2,359.45 455.2,359.47 456.2,359.49 457.1,359.51 458.1,359.53 459.0,359.55 460.0,359.57 460.9,359.59 461.9,359.61 462.9,359.63 463.8,359.64 464.8,359.66 465.7,359.68 466.7,359.69 467.6,359.71 468.6,359.73 469.6,359.74 470.5,359.76 471.5,359.77 472.4,359.79 473.4,359.80 474.3,359.81 475.3,359.83 476.3,359.84 477.2,359.85 478.2,359.86 479.1,359.88 480.1,359.89 481.0,359.90 482.0,359.91 483.0,359.92 483.9,359.93 484.9,359.94 485.8,359.96 486.8,359.97 487.8,359.98 488.7,359.98 489.7,359.99 490.6,360.00 491.6,360.01 492.5,360.02 493.5,360.03 494.5,360.04 495.4,360.05 496.4,360.05 497.3,360.06 498.3,360.07 499.2,360.08 500.2,360.09 501.2,360.09 502.1,360.10 503.1,360.11 504.0,360.11 505.0,360.12 505.9,360.13 506.9,360.13 507.9,360.14 508.8,360.14 509.8,360.15 510.7,360.16 511.7,360.16 512.6,360.17 513.6,360.17 514.6,360.18 515.5,360.18 516.5,360.19 517.4,360.19 518.4,360.20 519.3,360.20 520.3,360.21 521.3,360.21 522.2,360.21 523.2,360.22 524.1,360.22 525.1,360.23 526.0,360.23 527.0,360.24 528.0,360.24 528.9,360.24 529.9,360.25 530.8,360.25 531.8,360.25 532.8,360.26" fill="none" stroke="#3f80f0" stroke-width="1.25" stroke-linejoin="round" clip-path="url(#cp)"/>
<polyline points="55.0,35.78 56.0,35.78 56.9,35.78 57.9,35.78 58.8,35.78 59.8,35.78 60.7,35.78 61.7,35.78 62.7,35.78 63.6,35.78 64.6,35.78 65.5,35.78 66.5,35.78 67.4,35.78 68.4,35.78 69.4,35.78 70.3,35.78 71.3,35.78 72.2,35.78 73.2,35.78 74.1,35.78 75.1,35.78 76.1,35.78 77.0,35.78 78.0,35.78 78.9,35.78 79.9,35.78 80.9,35.78 81.8,35.78 82.8,35.78 83.7,35.78 84.7,35.78 85.6,35.78 86.6,35.78 87.6,35.78 88.5,35.78 89.5,35.78 90.4,35.78 91.4,35.78 92.3,35.78 93.3,35.78 94.3,35.78 95.2,35.78 96.2,35.78 97.1,35.78 98.1,35.78 99.0,35.78 100.0,35.78 101.0,35.78 101.9,35.78 102.9,35.78 103.8,35.78 104.8,35.78 105.7,35.78 106.7,35.78 107.7,35.78 108.6,35.78 109.6,35.78 110.5,35.78 111.5,35.78 112.4,35.78 113.4,35.79 114.4,35.79 115.3,35.79 116.3,35.79 117.2,35.79 118.2,35.79 119.1,35.79 120.1,35.79 121.1,35.79 122.0,35.79 123.0,35.79 123.9,35.79 124.9,35.79 125.8,35.79 126.8,35.79 127.8,35.79 128.7,35.79 129.7,35.79 130.6,35.79 131.6,35.79 132.6,35.79 133.5,35.80 134.5,35.80 135.4,35.80 136.4,35.80 137.3,35.80 138.3,35.80 139.3,35.80 140.2,35.80 141.2,35.80 142.1,35.80 143.1,35.81 144.0,35.81 145.0,35.81 146.0,35.81 146.9,35.81 147.9,35.81 148.8,35.81 149.8,35.82 150.7,35.82 151.7,35.82 152.7,35.82 153.6,35.82 154.6,35.83 155.5,35.83 156.5,35.83 157.4,35.83 158.4,35.83 159.4,35.84 160.3,35.84 161.3,35.84 162.2,35.85 163.2,35.85 164.1,35.85 165.1,35.86 166.1,35.86 167.0,35.86 168.0,35.87 168.9,35.87 169.9,35.88 170.8,35.88 171.8,35.89 172.8,35.89 173.7,35.90 174.7,35.90 175.6,35.91 176.6,35.91 177.5,35.92 178.5,35.93 179.5,35.93 180.4,35.94 181.4,35.95 182.3,35.96 183.3,35.96 184.3,35.97 185.2,35.98 186.2,35.99 187.1,36.00 188.1,36.01 189.0,36.02 190.0,36.03 191.0,36.04 191.9,36.06 192.9,36.07 193.8,36.08 194.8,36.10 195.7,36.11 196.7,36.13 197.7,36.14 198.6,36.16 199.6,36.18 200.5,36.20 201.5,36.21 202.4,36.23 203.4,36.26 204.4,36.28 205.3,36.30 206.3,36.32 207.2,36.35 208.2,36.37 209.1,36.40 210.1,36.43 211.1,36.46 212.0,36.49 213.0,36.52 213.9,36.55 214.9,36.59 215.8,36.62 216.8,36.66 217.8,36.70 218.7,36.74 219.7,36.78 220.6,36.83 221.6,36.87 222.5,36.92 223.5,36.97 224.5,37.02 225.4,37.07 226.4,37.13 227.3,37.19 228.3,37.25 229.2,37.31 230.2,37.37 231.2,37.44 232.1,37.51 233.1,37.58 234.0,37.65 235.0,37.73 236.0,37.81 236.9,37.89 237.9,37.98 238.8,38.07 239.8,38.16 240.7,38.25 241.7,38.35 242.7,38.45 243.6,38.55 244.6,38.66 245.5,38.77 246.5,38.88 247.4,39.00 248.4,39.12 249.4,39.25 250.3,39.37 251.3,39.50 252.2,39.64 253.2,39.78 254.1,39.92 255.1,40.07 256.1,40.21 257.0,40.37 258.0,40.52 258.9,40.69 259.9,40.85 260.8,41.02 261.8,41.19 262.8,41.37 263.7,41.55 264.7,41.73 265.6,41.92 266.6,42.11 267.5,42.30 268.5,42.50 269.5,42.70 270.4,42.91 271.4,43.12 272.3,43.33 273.3,43.55 274.2,43.77 275.2,44.00 276.2,44.22 277.1,44.46 278.1,44.69 279.0,44.93 280.0,45.17 280.9,45.42 281.9,45.67 282.9,45.92 283.8,46.18 284.8,46.44 285.7,46.70 286.7,46.97 287.7,47.24 288.6,47.52 289.6,47.79 290.5,48.07 291.5,48.36 292.4,48.65 293.4,48.94 294.4,49.23 295.3,49.53 296.3,49.83 297.2,50.13 298.2,50.44 299.1,50.75 300.1,51.07 301.1,51.39 302.0,51.71 303.0,52.03 303.9,52.36 304.9,52.69 305.8,53.03 306.8,53.37 307.8,53.71 308.7,54.06 309.7,54.41 310.6,54.76 311.6,55.12 312.5,55.48 313.5,55.84 314.5,56.21 315.4,56.58 316.4,56.96 317.3,57.34 318.3,57.72 319.2,58.10 320.2,58.49 321.2,58.89 322.1,59.29 323.1,59.69 324.0,60.09 325.0,60.50 325.9,60.92 326.9,61.33 327.9,61.75 328.8,62.18 329.8,62.61 330.7,63.04 331.7,63.47 332.7,63.91 333.6,64.36 334.6,64.80 335.5,65.25 336.5,65.71 337.4,66.17 338.4,66.63 339.4,67.09 340.3,67.56 341.3,68.03 342.2,68.51 343.2,68.99 344.1,69.47 345.1,69.95 346.1,70.44 347.0,70.93 348.0,71.43 348.9,71.92 349.9,72.42 350.8,72.93 351.8,73.43 352.8,73.94 353.7,74.45 354.7,74.97 355.6,75.48 356.6,76.00 357.5,76.52 358.5,77.05 359.5,77.57 360.4,78.10 361.4,78.63 362.3,79.16 363.3,79.70 364.2,80.23 365.2,80.77 366.2,81.31 367.1,81.86 368.1,82.40 369.0,82.95 370.0,83.49 370.9,84.04 371.9,84.59 372.9,85.14 373.8,85.70 374.8,86.25 375.7,86.81 376.7,87.36 377.6,87.92 378.6,88.48 379.6,89.04 380.5,89.60 381.5,90.17 382.4,90.73 383.4,91.29 384.4,91.86 385.3,92.43 386.3,92.99 387.2,93.56 388.2,94.13 389.1,94.70 390.1,95.27 391.1,95.84 392.0,96.41 393.0,96.99 393.9,97.56 394.9,98.13 395.8,98.71 396.8,99.28 397.8,99.86 398.7,100.43 399.7,101.01 400.6,101.59 401.6,102.16 402.5,102.74 403.5,103.32 404.5,103.90 405.4,104.48 406.4,105.06 407.3,105.64 408.3,106.22 409.2,106.80 410.2,107.38 411.2,107.96 412.1,108.54 413.1,109.12 414.0,109.70 415.0,110.28 415.9,110.86 416.9,111.45 417.9,112.03 418.8,112.61 419.8,113.19 420.7,113.78 421.7,114.36 422.6,114.94 423.6,115.53 424.6,116.11 425.5,116.69 426.5,117.28 427.4,117.86 428.4,118.44 429.3,119.03 430.3,119.61 431.3,120.20 432.2,120.78 433.2,121.37 434.1,121.95 435.1,122.54 436.1,123.12 437.0,123.71 438.0,124.29 438.9,124.88 439.9,125.46 440.8,126.05 441.8,126.63 442.8,127.22 443.7,127.80 444.7,128.39 445.6,128.97 446.6,129.56 447.5,130.15 448.5,130.73 449.5,131.32 450.4,131.90 451.4,132.49 452.3,133.07 453.3,133.66 454.2,134.25 455.2,134.83 456.2,135.42 457.1,136.00 458.1,136.59 459.0,137.18 460.0,137.76 460.9,138.35 461.9,138.94 462.9,139.52 463.8,140.11 464.8,140.69 465.7,141.28 466.7,141.87 467.6,142.45 468.6,143.04 469.6,143.63 470.5,144.21 471.5,144.80 472.4,145.39 473.4,145.97 474.3,146.56 475.3,147.15 476.3,147.73 477.2,148.32 478.2,148.90 479.1,149.49 480.1,150.08 481.0,150.66 482.0,151.25 483.0,151.84 483.9,152.42 484.9,153.01 485.8,153.60 486.8,154.18 487.8,154.77 488.7,155.36 489.7,155.94 490.6,156.53 491.6,157.12 492.5,157.70 493.5,158.29 494.5,158.88 495.4,159.46 496.4,160.05 497.3,160.64 498.3,161.22 499.2,161.81 500.2,162.40 501.2,162.98 502.1,163.57 503.1,164.16 504.0,164.74 505.0,165.33 505.9,165.92 506.9,166.50 507.9,167.09 508.8,167.68 509.8,168.26 510.7,168.85 511.7,169.44 512.6,170.02 513.6,170.61 514.6,171.20 515.5,171.78 516.5,172.37 517.4,172.96 518.4,173.54 519.3,174.13 520.3,174.72 521.3,175.31 522.2,175.89 523.2,176.48 524.1,177.07 525.1,177.65 526.0,178.24 527.0,178.83 528.0,179.41 528.9,180.00 529.9,180.59 530.8,181.17 531.8,181.76 532.8,182.35" fill="none" stroke="#4ddb4d" stroke-width="1.25" stroke-linejoin="round" clip-path="url(#cm)"/>
<polyline points="55.0,108.90 56.0,108.60 56.9,108.31 57.9,108.02 58.8,107.72 59.8,107.43 60.7,107.14 61.7,106.84 62.7,106.55 63.6,106.26 64.6,105.96 65.5,105.67 66.5,105.38 67.4,105.08 68.4,104.79 69.4,104.50 70.3,104.20 71.3,103.91 72.2,103.62 73.2,103.32 74.1,103.03 75.1,102.74 76.1,102.44 77.0,102.15 78.0,101.86 78.9,101.56 79.9,101.27 80.9,100.98 81.8,100.68 82.8,100.39 83.7,100.10 84.7,99.80 85.6,99.51 86.6,99.22 87.6,98.92 88.5,98.63 89.5,98.34 90.4,98.04 91.4,97.75 92.3,97.46 93.3,97.16 94.3,96.87 95.2,96.58 96.2,96.28 97.1,95.99 98.1,95.70 99.0,95.40 100.0,95.11 101.0,94.82 101.9,94.52 102.9,94.23 103.8,93.94 104.8,93.64 105.7,93.35 106.7,93.06 107.7,92.76 108.6,92.47 109.6,92.18 110.5,91.88 111.5,91.59 112.4,91.30 113.4,91.01 114.4,90.71 115.3,90.42 116.3,90.13 117.2,89.83 118.2,89.54 119.1,89.25 120.1,88.95 121.1,88.66 122.0,88.37 123.0,88.08 123.9,87.78 124.9,87.49 125.8,87.20 126.8,86.90 127.8,86.61 128.7,86.32 129.7,86.03 130.6,85.73 131.6,85.44 132.6,85.15 133.5,84.85 134.5,84.56 135.4,84.27 136.4,83.98 137.3,83.68 138.3,83.39 139.3,83.10 140.2,82.81 141.2,82.52 142.1,82.22 143.1,81.93 144.0,81.64 145.0,81.35 146.0,81.05 146.9,80.76 147.9,80.47 148.8,80.18 149.8,79.89 150.7,79.60 151.7,79.30 152.7,79.01 153.6,78.72 154.6,78.43 155.5,78.14 156.5,77.85 157.4,77.56 158.4,77.27 159.4,76.97 160.3,76.68 161.3,76.39 162.2,76.10 163.2,75.81 164.1,75.52 165.1,75.23 166.1,74.94 167.0,74.65 168.0,74.36 168.9,74.08 169.9,73.79 170.8,73.50 171.8,73.21 172.8,72.92 173.7,72.63 174.7,72.34 175.6,72.06 176.6,71.77 177.5,71.48 178.5,71.20 179.5,70.91 180.4,70.62 181.4,70.34 182.3,70.05 183.3,69.77 184.3,69.48 185.2,69.20 186.2,68.91 187.1,68.63 188.1,68.35 189.0,68.06 190.0,67.78 191.0,67.50 191.9,67.22 192.9,66.94 193.8,66.66 194.8,66.38 195.7,66.10 196.7,65.82 197.7,65.54 198.6,65.27 199.6,64.99 200.5,64.72 201.5,64.44 202.4,64.17 203.4,63.90 204.4,63.63 205.3,63.35 206.3,63.08 207.2,62.82 208.2,62.55 209.1,62.28 210.1,62.02 211.1,61.75 212.0,61.49 213.0,61.23 213.9,60.97 214.9,60.71 215.8,60.45 216.8,60.19 217.8,59.94 218.7,59.69 219.7,59.44 220.6,59.19 221.6,58.94 222.5,58.69 223.5,58.45 224.5,58.21 225.4,57.97 226.4,57.73 227.3,57.49 228.3,57.26 229.2,57.03 230.2,56.80 231.2,56.57 232.1,56.35 233.1,56.13 234.0,55.91 235.0,55.69 236.0,55.48 236.9,55.27 237.9,55.06 238.8,54.85 239.8,54.65 240.7,54.45 241.7,54.26 242.7,54.06 243.6,53.87 244.6,53.69 245.5,53.50 246.5,53.32 247.4,53.15 248.4,52.97 249.4,52.81 250.3,52.64 251.3,52.48 252.2,52.32 253.2,52.16 254.1,52.01 255.1,51.86 256.1,51.72 257.0,51.58 258.0,51.44 258.9,51.31 259.9,51.18 260.8,51.06 261.8,50.94 262.8,50.82 263.7,50.70 264.7,50.59 265.6,50.49 266.6,50.39 267.5,50.29 268.5,50.19 269.5,50.10 270.4,50.01 271.4,49.93 272.3,49.85 273.3,49.78 274.2,49.70 275.2,49.63 276.2,49.57 277.1,49.51 278.1,49.45 279.0,49.40 280.0,49.34 280.9,49.30 281.9,49.25 282.9,49.21 283.8,49.18 284.8,49.14 285.7,49.11 286.7,49.09 287.7,49.07 288.6,49.05 289.6,49.03 290.5,49.02 291.5,49.01 292.4,49.00 293.4,49.00 294.4,49.00 295.3,49.01 296.3,49.01 297.2,49.02 298.2,49.04 299.1,49.06 300.1,49.08 301.1,49.10 302.0,49.13 303.0,49.16 303.9,49.20 304.9,49.24 305.8,49.28 306.8,49.32 307.8,49.37 308.7,49.43 309.7,49.48 310.6,49.54 311.6,49.61 312.5,49.67 313.5,49.74 314.5,49.82 315.4,49.90 316.4,49.98 317.3,50.06 318.3,50.15 319.2,50.25 320.2,50.34 321.2,50.44 322.1,50.55 323.1,50.66 324.0,50.77 325.0,50.88 325.9,51.00 326.9,51.13 327.9,51.25 328.8,51.39 329.8,51.52 330.7,51.66 331.7,51.80 332.7,51.95 333.6,52.10 334.6,52.25 335.5,52.41 336.5,52.57 337.4,52.73 338.4,52.90 339.4,53.07 340.3,53.25 341.3,53.43 342.2,53.61 343.2,53.79 344.1,53.98 345.1,54.17 346.1,54.37 347.0,54.56 348.0,54.77 348.9,54.97 349.9,55.18 350.8,55.39 351.8,55.60 352.8,55.81 353.7,56.03 354.7,56.25 355.6,56.48 356.6,56.70 357.5,56.93 358.5,57.16 359.5,57.39 360.4,57.63 361.4,57.86 362.3,58.10 363.3,58.34 364.2,58.59 365.2,58.83 366.2,59.08 367.1,59.33 368.1,59.58 369.0,59.83 370.0,60.08 370.9,60.34 371.9,60.60 372.9,60.86 373.8,61.11 374.8,61.38 375.7,61.64 376.7,61.90 377.6,62.17 378.6,62.43 379.6,62.70 380.5,62.97 381.5,63.24 382.4,63.51 383.4,63.78 384.4,64.05 385.3,64.32 386.3,64.60 387.2,64.87 388.2,65.15 389.1,65.43 390.1,65.70 391.1,65.98 392.0,66.26 393.0,66.54 393.9,66.82 394.9,67.10 395.8,67.38 396.8,67.66 397.8,67.94 398.7,68.22 399.7,68.51 400.6,68.79 401.6,69.07 402.5,69.36 403.5,69.64 404.5,69.93 405.4,70.21 406.4,70.50 407.3,70.79 408.3,71.07 409.2,71.36 410.2,71.65 411.2,71.93 412.1,72.22 413.1,72.51 414.0,72.80 415.0,73.08 415.9,73.37 416.9,73.66 417.9,73.95 418.8,74.24 419.8,74.53 420.7,74.82 421.7,75.11 422.6,75.40 423.6,75.69 424.6,75.98 425.5,76.27 426.5,76.56 427.4,76.85 428.4,77.14 429.3,77.43 430.3,77.72 431.3,78.01 432.2,78.30 433.2,78.60 434.1,78.89 435.1,79.18 436.1,79.47 437.0,79.76 438.0,80.05 438.9,80.34 439.9,80.64 440.8,80.93 441.8,81.22 442.8,81.51 443.7,81.80 444.7,82.10 445.6,82.39 446.6,82.68 447.5,82.97 448.5,83.27 449.5,83.56 450.4,83.85 451.4,84.14 452.3,84.44 453.3,84.73 454.2,85.02 455.2,85.31 456.2,85.61 457.1,85.90 458.1,86.19 459.0,86.48 460.0,86.78 460.9,87.07 461.9,87.36 462.9,87.66 463.8,87.95 464.8,88.24 465.7,88.53 466.7,88.83 467.6,89.12 468.6,89.41 469.6,89.71 470.5,90.00 471.5,90.29 472.4,90.59 473.4,90.88 474.3,91.17 475.3,91.47 476.3,91.76 477.2,92.05 478.2,92.34 479.1,92.64 480.1,92.93 481.0,93.22 482.0,93.52 483.0,93.81 483.9,94.10 484.9,94.40 485.8,94.69 486.8,94.98 487.8,95.28 488.7,95.57 489.7,95.86 490.6,96.16 491.6,96.45 492.5,96.74 493.5,97.04 494.5,97.33 495.4,97.62 496.4,97.92 497.3,98.21 498.3,98.50 499.2,98.80 500.2,99.09 501.2,99.38 502.1,99.68 503.1,99.97 504.0,100.26 505.0,100.56 505.9,100.85 506.9,101.14 507.9,101.44 508.8,101.73 509.8,102.02 510.7,102.32 511.7,102.61 512.6,102.90 513.6,103.20 514.6,103.49 515.5,103.78 516.5,104.08 517.4,104.37 518.4,104.66 519.3,104.96 520.3,105.25 521.3,105.54 522.2,105.84 523.2,106.13 524.1,106.42 525.1,106.72 526.0,107.01 527.0,107.30 528.0,107.60 528.9,107.89 529.9,108.18 530.8,108.48 531.8,108.77 532.8,109.06" fill="none" stroke="#4ddb4d" stroke-width="1.25" stroke-linejoin="round" clip-path="url(#cm)"/>
<polyline points="55.0,206.79 56.0,206.80 56.9,206.81 57.9,206.82 58.8,206.82 59.8,206.83 60.7,206.84 61.7,206.85 62.7,206.85 63.6,206.86 64.6,206.87 65.5,206.88 66.5,206.89 67.4,206.90 68.4,206.91 69.4,206.92 70.3,206.93 71.3,206.94 72.2,206.95 73.2,206.96 74.1,206.97 75.1,206.98 76.1,206.99 77.0,207.00 78.0,207.01 78.9,207.02 79.9,207.04 80.9,207.05 81.8,207.06 82.8,207.07 83.7,207.09 84.7,207.10 85.6,207.12 86.6,207.13 87.6,207.14 88.5,207.16 89.5,207.17 90.4,207.19 91.4,207.21 92.3,207.22 93.3,207.24 94.3,207.26 95.2,207.27 96.2,207.29 97.1,207.31 98.1,207.33 99.0,207.35 100.0,207.37 101.0,207.39 101.9,207.41 102.9,207.43 103.8,207.45 104.8,207.48 105.7,207.50 106.7,207.52 107.7,207.55 108.6,207.57 109.6,207.60 110.5,207.62 111.5,207.65 112.4,207.67 113.4,207.70 114.4,207.73 115.3,207.76 116.3,207.79 117.2,207.82 118.2,207.85 119.1,207.88 120.1,207.91 121.1,207.94 122.0,207.98 123.0,208.01 123.9,208.05 124.9,208.08 125.8,208.12 126.8,208.16 127.8,208.20 128.7,208.24 129.7,208.28 130.6,208.32 131.6,208.36 132.6,208.40 133.5,208.45 134.5,208.49 135.4,208.54 136.4,208.59 137.3,208.64 138.3,208.69 139.3,208.74 140.2,208.79 141.2,208.84 142.1,208.90 143.1,208.95 144.0,209.01 145.0,209.07 146.0,209.13 146.9,209.19 147.9,209.25 148.8,209.32 149.8,209.38 150.7,209.45 151.7,209.52 152.7,209.59 153.6,209.66 154.6,209.73 155.5,209.81 156.5,209.88 157.4,209.96 158.4,210.04 159.4,210.13 160.3,210.21 161.3,210.30 162.2,210.38 163.2,210.47 164.1,210.57 165.1,210.66 166.1,210.76 167.0,210.86 168.0,210.96 168.9,211.06 169.9,211.17 170.8,211.27 171.8,211.38 172.8,211.50 173.7,211.61 174.7,211.73 175.6,211.85 176.6,211.98 177.5,212.10 178.5,212.23 179.5,212.36 180.4,212.50 181.4,212.64 182.3,212.78 183.3,212.92 184.3,213.07 185.2,213.22 186.2,213.37 187.1,213.53 188.1,213.69 189.0,213.86 190.0,214.02 191.0,214.19 191.9,214.37 192.9,214.55 193.8,214.73 194.8,214.92 195.7,215.11 196.7,215.31 197.7,215.50 198.6,215.71 199.6,215.92 200.5,216.13 201.5,216.34 202.4,216.57 203.4,216.79 204.4,217.02 205.3,217.26 206.3,217.50 207.2,217.74 208.2,217.99 209.1,218.24 210.1,218.50 211.1,218.77 212.0,219.04 213.0,219.31 213.9,219.59 214.9,219.88 215.8,220.17 216.8,220.46 217.8,220.76 218.7,221.07 219.7,221.38 220.6,221.70 221.6,222.03 222.5,222.35 223.5,222.69 224.5,223.03 225.4,223.38 226.4,223.73 227.3,224.08 228.3,224.45 229.2,224.82 230.2,225.19 231.2,225.57 232.1,225.95 233.1,226.35 234.0,226.74 235.0,227.14 236.0,227.55 236.9,227.96 237.9,228.38 238.8,228.80 239.8,229.23 240.7,229.67 241.7,230.10 242.7,230.55 243.6,230.99 244.6,231.45 245.5,231.90 246.5,232.36 247.4,232.83 248.4,233.30 249.4,233.77 250.3,234.25 251.3,234.73 252.2,235.22 253.2,235.71 254.1,236.20 255.1,236.69 256.1,237.19 257.0,237.69 258.0,238.20 258.9,238.70 259.9,239.21 260.8,239.72 261.8,240.23 262.8,240.75 263.7,241.27 264.7,241.79 265.6,242.31 266.6,242.83 267.5,243.35 268.5,243.87 269.5,244.40 270.4,244.93 271.4,245.45 272.3,245.98 273.3,246.51 274.2,247.04 275.2,247.57 276.2,248.10 277.1,248.63 278.1,249.16 279.0,249.70 280.0,250.23 280.9,250.76 281.9,251.29 282.9,251.82 283.8,252.36 284.8,252.89 285.7,253.42 286.7,253.96 287.7,254.49 288.6,255.02 289.6,255.55 290.5,256.09 291.5,256.62 292.4,257.15 293.4,257.69 294.4,258.22 295.3,258.75 296.3,259.28 297.2,259.82 298.2,260.35 299.1,260.88 300.1,261.41 301.1,261.95 302.0,262.48 303.0,263.01 303.9,263.55 304.9,264.08 305.8,264.61 306.8,265.14 307.8,265.67 308.7,266.21 309.7,266.74 310.6,267.27 311.6,267.80 312.5,268.33 313.5,268.86 314.5,269.39 315.4,269.92 316.4,270.45 317.3,270.97 318.3,271.50 319.2,272.02 320.2,272.55 321.2,273.07 322.1,273.59 323.1,274.11 324.0,274.63 325.0,275.14 325.9,275.66 326.9,276.17 327.9,276.68 328.8,277.19 329.8,277.69 330.7,278.19 331.7,278.69 332.7,279.19 333.6,279.68 334.6,280.17 335.5,280.66 336.5,281.14 337.4,281.62 338.4,282.10 339.4,282.57 340.3,283.04 341.3,283.50 342.2,283.96 343.2,284.41 344.1,284.86 345.1,285.31 346.1,285.75 347.0,286.18 348.0,286.61 348.9,287.04 349.9,287.46 350.8,287.87 351.8,288.28 352.8,288.69 353.7,289.08 354.7,289.48 355.6,289.86 356.6,290.25 357.5,290.62 358.5,290.99 359.5,291.36 360.4,291.72 361.4,292.07 362.3,292.42 363.3,292.76 364.2,293.10 365.2,293.43 366.2,293.76 367.1,294.08 368.1,294.39 369.0,294.70 370.0,295.01 370.9,295.31 371.9,295.60 372.9,295.89 373.8,296.17 374.8,296.45 375.7,296.72 376.7,296.98 377.6,297.25 378.6,297.50 379.6,297.75 380.5,298.00 381.5,298.24 382.4,298.48 383.4,298.71 384.4,298.94 385.3,299.16 386.3,299.38 387.2,299.59 388.2,299.80 389.1,300.01 390.1,300.21 391.1,300.41 392.0,300.60 393.0,300.79 393.9,300.97 394.9,301.15 395.8,301.33 396.8,301.50 397.8,301.67 398.7,301.84 399.7,302.00 400.6,302.16 401.6,302.32 402.5,302.47 403.5,302.62 404.5,302.76 405.4,302.90 406.4,303.04 407.3,303.18 408.3,303.31 409.2,303.44 410.2,303.57 411.2,303.70 412.1,303.82 413.1,303.94 414.0,304.05 415.0,304.17 415.9,304.28 416.9,304.39 417.9,304.49 418.8,304.60 419.8,304.70 420.7,304.80 421.7,304.90 422.6,304.99 423.6,305.09 424.6,305.18 425.5,305.27 426.5,305.35 427.4,305.44 428.4,305.52 429.3,305.60 430.3,305.68 431.3,305.76 432.2,305.83 433.2,305.91 434.1,305.98 435.1,306.05 436.1,306.12 437.0,306.19 438.0,306.26 438.9,306.32 439.9,306.38 440.8,306.45 441.8,306.51 442.8,306.56 443.7,306.62 444.7,306.68 445.6,306.73 446.6,306.79 447.5,306.84 448.5,306.89 449.5,306.94 450.4,306.99 451.4,307.04 452.3,307.09 453.3,307.13 454.2,307.18 455.2,307.22 456.2,307.26 457.1,307.31 458.1,307.35 459.0,307.39 460.0,307.43 460.9,307.46 461.9,307.50 462.9,307.54 463.8,307.57 464.8,307.61 465.7,307.64 466.7,307.67 467.6,307.71 468.6,307.74 469.6,307.77 470.5,307.80 471.5,307.83 472.4,307.86 473.4,307.89 474.3,307.91 475.3,307.94 476.3,307.97 477.2,307.99 478.2,308.02 479.1,308.04 480.1,308.07 481.0,308.09 482.0,308.11 483.0,308.14 483.9,308.16 484.9,308.18 485.8,308.20 486.8,308.22 487.8,308.24 488.7,308.26 489.7,308.28 490.6,308.30 491.6,308.32 492.5,308.34 493.5,308.35 494.5,308.37 495.4,308.39 496.4,308.40 497.3,308.42 498.3,308.43 499.2,308.45 500.2,308.46 501.2,308.48 502.1,308.49 503.1,308.51 504.0,308.52 505.0,308.53 505.9,308.55 506.9,308.56 507.9,308.57 508.8,308.58 509.8,308.60 510.7,308.61 511.7,308.62 512.6,308.63 513.6,308.64 514.6,308.65 515.5,308.66 516.5,308.67 517.4,308.68 518.4,308.69 519.3,308.70 520.3,308.71 521.3,308.72 522.2,308.73 523.2,308.73 524.1,308.74 525.1,308.75 526.0,308.76 527.0,308.77 528.0,308.77 528.9,308.78 529.9,308.79 530.8,308.80 531.8,308.80 532.8,308.81" fill="none" stroke="#4ddb4d" stroke-width="1.25" stroke-linejoin="round" clip-path="url(#cp)"/>
<polyline points="55.0,258.09 56.0,258.10 56.9,258.11 57.9,258.12 58.8,258.12 59.8,258.13 60.7,258.14 61.7,258.15 62.7,258.15 63.6,258.16 64.6,258.17 65.5,258.18 66.5,258.19 67.4,258.20 68.4,258.21 69.4,258.22 70.3,258.23 71.3,258.24 72.2,258.25 73.2,258.26 74.1,258.27 75.1,258.28 76.1,258.29 77.0,258.30 78.0,258.31 78.9,258.32 79.9,258.34 80.9,258.35 81.8,258.36 82.8,258.37 83.7,258.39 84.7,258.40 85.6,258.42 86.6,258.43 87.6,258.44 88.5,258.46 89.5,258.47 90.4,258.49 91.4,258.51 92.3,258.52 93.3,258.54 94.3,258.56 95.2,258.57 96.2,258.59 97.1,258.61 98.1,258.63 99.0,258.65 100.0,258.67 101.0,258.69 101.9,258.71 102.9,258.73 103.8,258.75 104.8,258.78 105.7,258.80 106.7,258.82 107.7,258.85 108.6,258.87 109.6,258.90 110.5,258.92 111.5,258.95 112.4,258.97 113.4,259.00 114.4,259.03 115.3,259.06 116.3,259.09 117.2,259.12 118.2,259.15 119.1,259.18 120.1,259.21 121.1,259.24 122.0,259.28 123.0,259.31 123.9,259.35 124.9,259.38 125.8,259.42 126.8,259.46 127.8,259.50 128.7,259.54 129.7,259.58 130.6,259.62 131.6,259.66 132.6,259.70 133.5,259.75 134.5,259.79 135.4,259.84 136.4,259.89 137.3,259.94 138.3,259.99 139.3,260.04 140.2,260.09 141.2,260.14 142.1,260.20 143.1,260.25 144.0,260.31 145.0,260.37 146.0,260.43 146.9,260.49 147.9,260.55 148.8,260.62 149.8,260.68 150.7,260.75 151.7,260.82 152.7,260.89 153.6,260.96 154.6,261.03 155.5,261.11 156.5,261.18 157.4,261.26 158.4,261.34 159.4,261.43 160.3,261.51 161.3,261.60 162.2,261.68 163.2,261.77 164.1,261.87 165.1,261.96 166.1,262.06 167.0,262.16 168.0,262.26 168.9,262.36 169.9,262.47 170.8,262.57 171.8,262.68 172.8,262.80 173.7,262.91 174.7,263.03 175.6,263.15 176.6,263.28 177.5,263.40 178.5,263.53 179.5,263.66 180.4,263.80 181.4,263.94 182.3,264.08 183.3,264.22 184.3,264.37 185.2,264.52 186.2,264.67 187.1,264.83 188.1,264.99 189.0,265.16 190.0,265.32 191.0,265.49 191.9,265.67 192.9,265.85 193.8,266.03 194.8,266.22 195.7,266.41 196.7,266.61 197.7,266.80 198.6,267.01 199.6,267.22 200.5,267.43 201.5,267.64 202.4,267.87 203.4,268.09 204.4,268.32 205.3,268.56 206.3,268.80 207.2,269.04 208.2,269.29 209.1,269.54 210.1,269.80 211.1,270.07 212.0,270.34 213.0,270.61 213.9,270.89 214.9,271.18 215.8,271.47 216.8,271.76 217.8,272.06 218.7,272.37 219.7,272.68 220.6,273.00 221.6,273.33 222.5,273.65 223.5,273.99 224.5,274.33 225.4,274.68 226.4,275.03 227.3,275.38 228.3,275.75 229.2,276.12 230.2,276.49 231.2,276.87 232.1,277.25 233.1,277.65 234.0,278.04 235.0,278.44 236.0,278.85 236.9,279.26 237.9,279.68 238.8,280.10 239.8,280.53 240.7,280.97 241.7,281.40 242.7,281.85 243.6,282.29 244.6,282.75 245.5,283.20 246.5,283.66 247.4,284.13 248.4,284.60 249.4,285.07 250.3,285.55 251.3,286.03 252.2,286.52 253.2,287.01 254.1,287.50 255.1,287.99 256.1,288.49 257.0,288.99 258.0,289.50 258.9,290.00 259.9,290.51 260.8,291.02 261.8,291.53 262.8,292.05 263.7,292.57 264.7,293.09 265.6,293.61 266.6,294.13 267.5,294.65 268.5,295.17 269.5,295.70 270.4,296.23 271.4,296.75 272.3,297.28 273.3,297.81 274.2,298.34 275.2,298.87 276.2,299.40 277.1,299.93 278.1,300.46 279.0,301.00 280.0,301.53 280.9,302.06 281.9,302.59 282.9,303.12 283.8,303.66 284.8,304.19 285.7,304.72 286.7,305.26 287.7,305.79 288.6,306.32 289.6,306.85 290.5,307.39 291.5,307.92 292.4,308.45 293.4,308.99 294.4,309.52 295.3,310.05 296.3,310.58 297.2,311.12 298.2,311.65 299.1,312.18 300.1,312.71 301.1,313.25 302.0,313.78 303.0,314.31 303.9,314.85 304.9,315.38 305.8,315.91 306.8,316.44 307.8,316.97 308.7,317.51 309.7,318.04 310.6,318.57 311.6,319.10 312.5,319.63 313.5,320.16 314.5,320.69 315.4,321.22 316.4,321.75 317.3,322.27 318.3,322.80 319.2,323.32 320.2,323.85 321.2,324.37 322.1,324.89 323.1,325.41 324.0,325.93 325.0,326.44 325.9,326.96 326.9,327.47 327.9,327.98 328.8,328.49 329.8,328.99 330.7,329.49 331.7,329.99 332.7,330.49 333.6,330.98 334.6,331.47 335.5,331.96 336.5,332.44 337.4,332.92 338.4,333.40 339.4,333.87 340.3,334.34 341.3,334.80 342.2,335.26 343.2,335.71 344.1,336.16 345.1,336.61 346.1,337.05 347.0,337.48 348.0,337.91 348.9,338.34 349.9,338.76 350.8,339.17 351.8,339.58 352.8,339.99 353.7,340.38 354.7,340.78 355.6,341.16 356.6,341.55 357.5,341.92 358.5,342.29 359.5,342.66 360.4,343.02 361.4,343.37 362.3,343.72 363.3,344.06 364.2,344.40 365.2,344.73 366.2,345.06 367.1,345.38 368.1,345.69 369.0,346.00 370.0,346.31 370.9,346.61 371.9,346.90 372.9,347.19 373.8,347.47 374.8,347.75 375.7,348.02 376.7,348.28 377.6,348.55 378.6,348.80 379.6,349.05 380.5,349.30 381.5,349.54 382.4,349.78 383.4,350.01 384.4,350.24 385.3,350.46 386.3,350.68 387.2,350.89 388.2,351.10 389.1,351.31 390.1,351.51 391.1,351.71 392.0,351.90 393.0,352.09 393.9,352.27 394.9,352.45 395.8,352.63 396.8,352.80 397.8,352.97 398.7,353.14 399.7,353.30 400.6,353.46 401.6,353.62 402.5,353.77 403.5,353.92 404.5,354.06 405.4,354.20 406.4,354.34 407.3,354.48 408.3,354.61 409.2,354.74 410.2,354.87 411.2,355.00 412.1,355.12 413.1,355.24 414.0,355.35 415.0,355.47 415.9,355.58 416.9,355.69 417.9,355.79 418.8,355.90 419.8,356.00 420.7,356.10 421.7,356.20 422.6,356.29 423.6,356.39 424.6,356.48 425.5,356.57 426.5,356.65 427.4,356.74 428.4,356.82 429.3,356.90 430.3,356.98 431.3,357.06 432.2,357.13 433.2,357.21 434.1,357.28 435.1,357.35 436.1,357.42 437.0,357.49 438.0,357.56 438.9,357.62 439.9,357.68 440.8,357.75 441.8,357.81 442.8,357.86 443.7,357.92 444.7,357.98 445.6,358.03 446.6,358.09 447.5,358.14 448.5,358.19 449.5,358.24 450.4,358.29 451.4,358.34 452.3,358.39 453.3,358.43 454.2,358.48 455.2,358.52 456.2,358.56 457.1,358.61 458.1,358.65 459.0,358.69 460.0,358.73 460.9,358.76 461.9,358.80 462.9,358.84 463.8,358.87 464.8,358.91 465.7,358.94 466.7,358.97 467.6,359.01 468.6,359.04 469.6,359.07 470.5,359.10 471.5,359.13 472.4,359.16 473.4,359.19 474.3,359.21 475.3,359.24 476.3,359.27 477.2,359.29 478.2,359.32 479.1,359.34 480.1,359.37 481.0,359.39 482.0,359.41 483.0,359.44 483.9,359.46 484.9,359.48 485.8,359.50 486.8,359.52 487.8,359.54 488.7,359.56 489.7,359.58 490.6,359.60 491.6,359.62 492.5,359.64 493.5,359.65 494.5,359.67 495.4,359.69 496.4,359.70 497.3,359.72 498.3,359.73 499.2,359.75 500.2,359.76 501.2,359.78 502.1,359.79 503.1,359.81 504.0,359.82 505.0,359.83 505.9,359.85 506.9,359.86 507.9,359.87 508.8,359.88 509.8,359.90 510.7,359.91 511.7,359.92 512.6,359.93 513.6,359.94 514.6,359.95 515.5,359.96 516.5,359.97 517.4,359.98 518.4,359.99 519.3,360.00 520.3,360.01 521.3,360.02 522.2,360.03 523.2,360.03 524.1,360.04 525.1,360.05 526.0,360.06 527.0,360.07 528.0,360.07 528.9,360.08 529.9,360.09 530.8,360.10 531.8,360.10 532.8,360.11" fill="none" stroke="#4ddb4d" stroke-width="1.25" stroke-linejoin="round" clip-path="url(#cp)"/>
<polyline points="55.0,32.71 56.0,32.71 56.9,32.71 57.9,32.71 58.8,32.71 59.8,32.71 60.7,32.71 61.7,32.71 62.7,32.71 63.6,32.71 64.6,32.71 65.5,32.71 66.5,32.71 67.4,32.71 68.4,32.71 69.4,32.71 70.3,32.71 71.3,32.71 72.2,32.71 73.2,32.71 74.1,32.71 75.1,32.71 76.1,32.71 77.0,32.71 78.0,32.71 78.9,32.71 79.9,32.71 80.9,32.71 81.8,32.71 82.8,32.71 83.7,32.71 84.7,32.71 85.6,32.71 86.6,32.71 87.6,32.71 88.5,32.72 89.5,32.72 90.4,32.72 91.4,32.72 92.3,32.72 93.3,32.72 94.3,32.72 95.2,32.72 96.2,32.72 97.1,32.72 98.1,32.72 99.0,32.72 100.0,32.72 101.0,32.72 101.9,32.72 102.9,32.72 103.8,32.72 104.8,32.72 105.7,32.72 106.7,32.72 107.7,32.72 108.6,32.72 109.6,32.72 110.5,32.72 111.5,32.72 112.4,32.72 113.4,32.72 114.4,32.72 115.3,32.72 116.3,32.72 117.2,32.73 118.2,32.73 119.1,32.73 120.1,32.73 121.1,32.73 122.0,32.73 123.0,32.73 123.9,32.73 124.9,32.73 125.8,32.73 126.8,32.73 127.8,32.73 128.7,32.74 129.7,32.74 130.6,32.74 131.6,32.74 132.6,32.74 133.5,32.74 134.5,32.74 135.4,32.75 136.4,32.75 137.3,32.75 138.3,32.75 139.3,32.75 140.2,32.75 141.2,32.76 142.1,32.76 143.1,32.76 144.0,32.76 145.0,32.77 146.0,32.77 146.9,32.77 147.9,32.77 148.8,32.78 149.8,32.78 150.7,32.78 151.7,32.79 152.7,32.79 153.6,32.79 154.6,32.80 155.5,32.80 156.5,32.80 157.4,32.81 158.4,32.81 159.4,32.82 160.3,32.82 161.3,32.83 162.2,32.83 163.2,32.84 164.1,32.85 165.1,32.85 166.1,32.86 167.0,32.87 168.0,32.87 168.9,32.88 169.9,32.89 170.8,32.90 171.8,32.91 172.8,32.91 173.7,32.92 174.7,32.93 175.6,32.94 176.6,32.95 177.5,32.97 178.5,32.98 179.5,32.99 180.4,33.00 181.4,33.02 182.3,33.03 183.3,33.04 184.3,33.06 185.2,33.08 186.2,33.09 187.1,33.11 188.1,33.13 189.0,33.15 190.0,33.17 191.0,33.19 191.9,33.21 192.9,33.23 193.8,33.26 194.8,33.28 195.7,33.31 196.7,33.33 197.7,33.36 198.6,33.39 199.6,33.42 200.5,33.45 201.5,33.49 202.4,33.52 203.4,33.56 204.4,33.59 205.3,33.63 206.3,33.67 207.2,33.71 208.2,33.76 209.1,33.80 210.1,33.85 211.1,33.90 212.0,33.95 213.0,34.00 213.9,34.06 214.9,34.12 215.8,34.18 216.8,34.24 217.8,34.30 218.7,34.37 219.7,34.44 220.6,34.51 221.6,34.58 222.5,34.66 223.5,34.74 224.5,34.82 225.4,34.90 226.4,34.99 227.3,35.08 228.3,35.17 229.2,35.27 230.2,35.37 231.2,35.47 232.1,35.57 233.1,35.68 234.0,35.79 235.0,35.91 236.0,36.03 236.9,36.15 237.9,36.27 238.8,36.40 239.8,36.53 240.7,36.67 241.7,36.81 242.7,36.95 243.6,37.10 244.6,37.25 245.5,37.40 246.5,37.55 247.4,37.71 248.4,37.88 249.4,38.04 250.3,38.21 251.3,38.39 252.2,38.56 253.2,38.74 254.1,38.93 255.1,39.12 256.1,39.31 257.0,39.50 258.0,39.70 258.9,39.90 259.9,40.10 260.8,40.31 261.8,40.52 262.8,40.73 263.7,40.95 264.7,41.17 265.6,41.39 266.6,41.61 267.5,41.84 268.5,42.07 269.5,42.30 270.4,42.54 271.4,42.78 272.3,43.02 273.3,43.27 274.2,43.51 275.2,43.76 276.2,44.01 277.1,44.27 278.1,44.52 279.0,44.78 280.0,45.04 280.9,45.31 281.9,45.57 282.9,45.84 283.8,46.11 284.8,46.39 285.7,46.66 286.7,46.94 287.7,47.22 288.6,47.50 289.6,47.78 290.5,48.07 291.5,48.36 292.4,48.64 293.4,48.94 294.4,49.23 295.3,49.53 296.3,49.83 297.2,50.13 298.2,50.43 299.1,50.73 300.1,51.04 301.1,51.35 302.0,51.66 303.0,51.97 303.9,52.29 304.9,52.60 305.8,52.92 306.8,53.25 307.8,53.57 308.7,53.90 309.7,54.23 310.6,54.56 311.6,54.89 312.5,55.23 313.5,55.57 314.5,55.91 315.4,56.25 316.4,56.60 317.3,56.95 318.3,57.30 319.2,57.66 320.2,58.01 321.2,58.37 322.1,58.74 323.1,59.10 324.0,59.47 325.0,59.85 325.9,60.22 326.9,60.60 327.9,60.98 328.8,61.37 329.8,61.76 330.7,62.15 331.7,62.54 332.7,62.94 333.6,63.34 334.6,63.75 335.5,64.15 336.5,64.57 337.4,64.98 338.4,65.40 339.4,65.82 340.3,66.25 341.3,66.68 342.2,67.11 343.2,67.55 344.1,67.99 345.1,68.43 346.1,68.88 347.0,69.33 348.0,69.78 348.9,70.24 349.9,70.70 350.8,71.16 351.8,71.63 352.8,72.10 353.7,72.57 354.7,73.05 355.6,73.53 356.6,74.01 357.5,74.50 358.5,74.99 359.5,75.48 360.4,75.98 361.4,76.47 362.3,76.97 363.3,77.48 364.2,77.99 365.2,78.49 366.2,79.01 367.1,79.52 368.1,80.04 369.0,80.56 370.0,81.08 370.9,81.60 371.9,82.13 372.9,82.66 373.8,83.19 374.8,83.72 375.7,84.26 376.7,84.79 377.6,85.33 378.6,85.87 379.6,86.42 380.5,86.96 381.5,87.51 382.4,88.05 383.4,88.60 384.4,89.15 385.3,89.70 386.3,90.26 387.2,90.81 388.2,91.37 389.1,91.92 390.1,92.48 391.1,93.04 392.0,93.60 393.0,94.16 393.9,94.73 394.9,95.29 395.8,95.86 396.8,96.42 397.8,96.99 398.7,97.56 399.7,98.12 400.6,98.69 401.6,99.26 402.5,99.83 403.5,100.40 404.5,100.98 405.4,101.55 406.4,102.12 407.3,102.69 408.3,103.27 409.2,103.84 410.2,104.42 411.2,105.00 412.1,105.57 413.1,106.15 414.0,106.73 415.0,107.30 415.9,107.88 416.9,108.46 417.9,109.04 418.8,109.62 419.8,110.20 420.7,110.78 421.7,111.36 422.6,111.94 423.6,112.52 424.6,113.10 425.5,113.68 426.5,114.26 427.4,114.84 428.4,115.42 429.3,116.01 430.3,116.59 431.3,117.17 432.2,117.75 433.2,118.34 434.1,118.92 435.1,119.50 436.1,120.09 437.0,120.67 438.0,121.25 438.9,121.84 439.9,122.42 440.8,123.01 441.8,123.59 442.8,124.17 443.7,124.76 444.7,125.34 445.6,125.93 446.6,126.51 447.5,127.10 448.5,127.68 449.5,128.27 450.4,128.85 451.4,129.44 452.3,130.02 453.3,130.61 454.2,131.19 455.2,131.78 456.2,132.36 457.1,132.95 458.1,133.54 459.0,134.12 460.0,134.71 460.9,135.29 461.9,135.88 462.9,136.46 463.8,137.05 464.8,137.64 465.7,138.22 466.7,138.81 467.6,139.39 468.6,139.98 469.6,140.57 470.5,141.15 471.5,141.74 472.4,142.32 473.4,142.91 474.3,143.50 475.3,144.08 476.3,144.67 477.2,145.26 478.2,145.84 479.1,146.43 480.1,147.01 481.0,147.60 482.0,148.19 483.0,148.77 483.9,149.36 484.9,149.95 485.8,150.53 486.8,151.12 487.8,151.71 488.7,152.29 489.7,152.88 490.6,153.47 491.6,154.05 492.5,154.64 493.5,155.23 494.5,155.81 495.4,156.40 496.4,156.98 497.3,157.57 498.3,158.16 499.2,158.74 500.2,159.33 501.2,159.92 502.1,160.50 503.1,161.09 504.0,161.68 505.0,162.26 505.9,162.85 506.9,163.44 507.9,164.02 508.8,164.61 509.8,165.20 510.7,165.78 511.7,166.37 512.6,166.96 513.6,167.54 514.6,168.13 515.5,168.72 516.5,169.30 517.4,169.89 518.4,170.48 519.3,171.06 520.3,171.65 521.3,172.24 522.2,172.82 523.2,173.41 524.1,174.00 525.1,174.59 526.0,175.17 527.0,175.76 528.0,176.35 528.9,176.93 529.9,177.52 530.8,178.11 531.8,178.69 532.8,179.28" fill="none" stroke="#ff4d4d" stroke-width="1.25" stroke-linejoin="round" clip-path="url(#cm)"/>
<polyline points="55.0,105.83 56.0,105.54 56.9,105.24 57.9,104.95 58.8,104.66 59.8,104.36 60.7,104.07 61.7,103.78 62.7,103.48 63.6,103.19 64.6,102.90 65.5,102.60 66.5,102.31 67.4,102.02 68.4,101.72 69.4,101.43 70.3,101.14 71.3,100.84 72.2,100.55 73.2,100.26 74.1,99.96 75.1,99.67 76.1,99.38 77.0,99.08 78.0,98.79 78.9,98.50 79.9,98.20 80.9,97.91 81.8,97.62 82.8,97.32 83.7,97.03 84.7,96.74 85.6,96.44 86.6,96.15 87.6,95.86 88.5,95.56 89.5,95.27 90.4,94.98 91.4,94.68 92.3,94.39 93.3,94.10 94.3,93.80 95.2,93.51 96.2,93.22 97.1,92.92 98.1,92.63 99.0,92.34 100.0,92.05 101.0,91.75 101.9,91.46 102.9,91.17 103.8,90.87 104.8,90.58 105.7,90.29 106.7,89.99 107.7,89.70 108.6,89.41 109.6,89.11 110.5,88.82 111.5,88.53 112.4,88.24 113.4,87.94 114.4,87.65 115.3,87.36 116.3,87.06 117.2,86.77 118.2,86.48 119.1,86.19 120.1,85.89 121.1,85.60 122.0,85.31 123.0,85.02 123.9,84.72 124.9,84.43 125.8,84.14 126.8,83.85 127.8,83.55 128.7,83.26 129.7,82.97 130.6,82.68 131.6,82.39 132.6,82.09 133.5,81.80 134.5,81.51 135.4,81.22 136.4,80.93 137.3,80.63 138.3,80.34 139.3,80.05 140.2,79.76 141.2,79.47 142.1,79.18 143.1,78.89 144.0,78.59 145.0,78.30 146.0,78.01 146.9,77.72 147.9,77.43 148.8,77.14 149.8,76.85 150.7,76.56 151.7,76.27 152.7,75.98 153.6,75.69 154.6,75.40 155.5,75.11 156.5,74.82 157.4,74.53 158.4,74.24 159.4,73.96 160.3,73.67 161.3,73.38 162.2,73.09 163.2,72.80 164.1,72.52 165.1,72.23 166.1,71.94 167.0,71.66 168.0,71.37 168.9,71.08 169.9,70.80 170.8,70.51 171.8,70.23 172.8,69.94 173.7,69.66 174.7,69.38 175.6,69.09 176.6,68.81 177.5,68.53 178.5,68.25 179.5,67.97 180.4,67.69 181.4,67.41 182.3,67.13 183.3,66.85 184.3,66.57 185.2,66.29 186.2,66.02 187.1,65.74 188.1,65.46 189.0,65.19 190.0,64.92 191.0,64.64 191.9,64.37 192.9,64.10 193.8,63.83 194.8,63.56 195.7,63.30 196.7,63.03 197.7,62.76 198.6,62.50 199.6,62.24 200.5,61.97 201.5,61.71 202.4,61.45 203.4,61.20 204.4,60.94 205.3,60.69 206.3,60.43 207.2,60.18 208.2,59.93 209.1,59.68 210.1,59.44 211.1,59.19 212.0,58.95 213.0,58.71 213.9,58.47 214.9,58.24 215.8,58.00 216.8,57.77 217.8,57.54 218.7,57.31 219.7,57.09 220.6,56.87 221.6,56.65 222.5,56.43 223.5,56.22 224.5,56.00 225.4,55.80 226.4,55.59 227.3,55.39 228.3,55.19 229.2,54.99 230.2,54.79 231.2,54.60 232.1,54.41 233.1,54.23 234.0,54.05 235.0,53.87 236.0,53.69 236.9,53.52 237.9,53.35 238.8,53.19 239.8,53.03 240.7,52.87 241.7,52.71 242.7,52.56 243.6,52.42 244.6,52.27 245.5,52.13 246.5,51.99 247.4,51.86 248.4,51.73 249.4,51.60 250.3,51.48 251.3,51.36 252.2,51.24 253.2,51.13 254.1,51.02 255.1,50.91 256.1,50.81 257.0,50.71 258.0,50.62 258.9,50.52 259.9,50.43 260.8,50.35 261.8,50.26 262.8,50.18 263.7,50.10 264.7,50.03 265.6,49.96 266.6,49.89 267.5,49.82 268.5,49.76 269.5,49.70 270.4,49.65 271.4,49.59 272.3,49.54 273.3,49.49 274.2,49.44 275.2,49.40 276.2,49.36 277.1,49.32 278.1,49.28 279.0,49.25 280.0,49.22 280.9,49.19 281.9,49.16 282.9,49.13 283.8,49.11 284.8,49.09 285.7,49.07 286.7,49.05 287.7,49.04 288.6,49.03 289.6,49.02 290.5,49.01 291.5,49.01 292.4,49.00 293.4,49.00 294.4,49.00 295.3,49.00 296.3,49.01 297.2,49.01 298.2,49.02 299.1,49.04 300.1,49.05 301.1,49.06 302.0,49.08 303.0,49.10 303.9,49.12 304.9,49.15 305.8,49.17 306.8,49.20 307.8,49.23 308.7,49.27 309.7,49.30 310.6,49.34 311.6,49.38 312.5,49.42 313.5,49.47 314.5,49.52 315.4,49.57 316.4,49.62 317.3,49.68 318.3,49.74 319.2,49.80 320.2,49.86 321.2,49.93 322.1,50.00 323.1,50.07 324.0,50.15 325.0,50.23 325.9,50.31 326.9,50.39 327.9,50.48 328.8,50.57 329.8,50.67 330.7,50.77 331.7,50.87 332.7,50.97 333.6,51.08 334.6,51.19 335.5,51.31 336.5,51.43 337.4,51.55 338.4,51.67 339.4,51.80 340.3,51.94 341.3,52.07 342.2,52.21 343.2,52.35 344.1,52.50 345.1,52.65 346.1,52.80 347.0,52.96 348.0,53.12 348.9,53.28 349.9,53.45 350.8,53.62 351.8,53.79 352.8,53.97 353.7,54.15 354.7,54.33 355.6,54.52 356.6,54.71 357.5,54.90 358.5,55.10 359.5,55.30 360.4,55.50 361.4,55.71 362.3,55.91 363.3,56.12 364.2,56.34 365.2,56.55 366.2,56.77 367.1,56.99 368.1,57.22 369.0,57.44 370.0,57.67 370.9,57.90 371.9,58.14 372.9,58.37 373.8,58.61 374.8,58.85 375.7,59.09 376.7,59.33 377.6,59.58 378.6,59.83 379.6,60.07 380.5,60.32 381.5,60.58 382.4,60.83 383.4,61.09 384.4,61.34 385.3,61.60 386.3,61.86 387.2,62.12 388.2,62.39 389.1,62.65 390.1,62.91 391.1,63.18 392.0,63.45 393.0,63.72 393.9,63.99 394.9,64.26 395.8,64.53 396.8,64.80 397.8,65.07 398.7,65.35 399.7,65.62 400.6,65.90 401.6,66.17 402.5,66.45 403.5,66.73 404.5,67.01 405.4,67.29 406.4,67.56 407.3,67.85 408.3,68.13 409.2,68.41 410.2,68.69 411.2,68.97 412.1,69.25 413.1,69.54 414.0,69.82 415.0,70.11 415.9,70.39 416.9,70.68 417.9,70.96 418.8,71.25 419.8,71.53 420.7,71.82 421.7,72.11 422.6,72.39 423.6,72.68 424.6,72.97 425.5,73.26 426.5,73.54 427.4,73.83 428.4,74.12 429.3,74.41 430.3,74.70 431.3,74.99 432.2,75.28 433.2,75.57 434.1,75.86 435.1,76.15 436.1,76.44 437.0,76.73 438.0,77.02 438.9,77.31 439.9,77.60 440.8,77.89 441.8,78.18 442.8,78.47 443.7,78.76 444.7,79.05 445.6,79.34 446.6,79.63 447.5,79.93 448.5,80.22 449.5,80.51 450.4,80.80 451.4,81.09 452.3,81.38 453.3,81.68 454.2,81.97 455.2,82.26 456.2,82.55 457.1,82.84 458.1,83.14 459.0,83.43 460.0,83.72 460.9,84.01 461.9,84.31 462.9,84.60 463.8,84.89 464.8,85.18 465.7,85.48 466.7,85.77 467.6,86.06 468.6,86.35 469.6,86.65 470.5,86.94 471.5,87.23 472.4,87.52 473.4,87.82 474.3,88.11 475.3,88.40 476.3,88.70 477.2,88.99 478.2,89.28 479.1,89.57 480.1,89.87 481.0,90.16 482.0,90.45 483.0,90.75 483.9,91.04 484.9,91.33 485.8,91.63 486.8,91.92 487.8,92.21 488.7,92.50 489.7,92.80 490.6,93.09 491.6,93.38 492.5,93.68 493.5,93.97 494.5,94.26 495.4,94.56 496.4,94.85 497.3,95.14 498.3,95.44 499.2,95.73 500.2,96.02 501.2,96.32 502.1,96.61 503.1,96.90 504.0,97.20 505.0,97.49 505.9,97.78 506.9,98.08 507.9,98.37 508.8,98.66 509.8,98.96 510.7,99.25 511.7,99.54 512.6,99.84 513.6,100.13 514.6,100.42 515.5,100.72 516.5,101.01 517.4,101.30 518.4,101.60 519.3,101.89 520.3,102.18 521.3,102.48 522.2,102.77 523.2,103.06 524.1,103.36 525.1,103.65 526.0,103.94 527.0,104.24 528.0,104.53 528.9,104.82 529.9,105.12 530.8,105.41 531.8,105.70 532.8,106.00" fill="none" stroke="#ff4d4d" stroke-width="1.25" stroke-linejoin="round" clip-path="url(#cm)"/>
<polyline points="55.0,206.87 56.0,206.88 56.9,206.89 57.9,206.90 58.8,206.91 59.8,206.92 60.7,206.93 61.7,206.94 62.7,206.95 63.6,206.96 64.6,206.97 65.5,206.98 66.5,206.99 67.4,207.01 68.4,207.02 69.4,207.03 70.3,207.04 71.3,207.05 72.2,207.07 73.2,207.08 74.1,207.09 75.1,207.11 76.1,207.12 77.0,207.14 78.0,207.15 78.9,207.17 79.9,207.18 80.9,207.20 81.8,207.21 82.8,207.23 83.7,207.25 84.7,207.27 85.6,207.28 86.6,207.30 87.6,207.32 88.5,207.34 89.5,207.36 90.4,207.38 91.4,207.40 92.3,207.42 93.3,207.44 94.3,207.46 95.2,207.49 96.2,207.51 97.1,207.53 98.1,207.56 99.0,207.58 100.0,207.61 101.0,207.63 101.9,207.66 102.9,207.69 103.8,207.71 104.8,207.74 105.7,207.77 106.7,207.80 107.7,207.83 108.6,207.86 109.6,207.89 110.5,207.93 111.5,207.96 112.4,207.99 113.4,208.03 114.4,208.06 115.3,208.10 116.3,208.14 117.2,208.18 118.2,208.21 119.1,208.25 120.1,208.30 121.1,208.34 122.0,208.38 123.0,208.42 123.9,208.47 124.9,208.51 125.8,208.56 126.8,208.61 127.8,208.66 128.7,208.71 129.7,208.76 130.6,208.81 131.6,208.87 132.6,208.92 133.5,208.98 134.5,209.04 135.4,209.09 136.4,209.16 137.3,209.22 138.3,209.28 139.3,209.34 140.2,209.41 141.2,209.48 142.1,209.55 143.1,209.62 144.0,209.69 145.0,209.77 146.0,209.84 146.9,209.92 147.9,210.00 148.8,210.08 149.8,210.16 150.7,210.25 151.7,210.33 152.7,210.42 153.6,210.51 154.6,210.61 155.5,210.70 156.5,210.80 157.4,210.90 158.4,211.00 159.4,211.10 160.3,211.21 161.3,211.32 162.2,211.43 163.2,211.54 164.1,211.66 165.1,211.78 166.1,211.90 167.0,212.02 168.0,212.15 168.9,212.28 169.9,212.41 170.8,212.55 171.8,212.69 172.8,212.83 173.7,212.97 174.7,213.12 175.6,213.27 176.6,213.43 177.5,213.59 178.5,213.75 179.5,213.91 180.4,214.08 181.4,214.25 182.3,214.43 183.3,214.61 184.3,214.79 185.2,214.98 186.2,215.17 187.1,215.36 188.1,215.56 189.0,215.77 190.0,215.97 191.0,216.18 191.9,216.40 192.9,216.62 193.8,216.85 194.8,217.07 195.7,217.31 196.7,217.55 197.7,217.79 198.6,218.04 199.6,218.29 200.5,218.54 201.5,218.81 202.4,219.07 203.4,219.34 204.4,219.62 205.3,219.90 206.3,220.19 207.2,220.48 208.2,220.77 209.1,221.07 210.1,221.38 211.1,221.69 212.0,222.01 213.0,222.33 213.9,222.66 214.9,222.99 215.8,223.32 216.8,223.66 217.8,224.01 218.7,224.36 219.7,224.72 220.6,225.08 221.6,225.44 222.5,225.81 223.5,226.19 224.5,226.57 225.4,226.95 226.4,227.34 227.3,227.73 228.3,228.12 229.2,228.52 230.2,228.93 231.2,229.34 232.1,229.75 233.1,230.16 234.0,230.58 235.0,231.00 236.0,231.43 236.9,231.86 237.9,232.29 238.8,232.72 239.8,233.16 240.7,233.59 241.7,234.03 242.7,234.47 243.6,234.92 244.6,235.36 245.5,235.81 246.5,236.26 247.4,236.71 248.4,237.16 249.4,237.61 250.3,238.06 251.3,238.51 252.2,238.97 253.2,239.42 254.1,239.87 255.1,240.33 256.1,240.78 257.0,241.23 258.0,241.68 258.9,242.14 259.9,242.59 260.8,243.04 261.8,243.49 262.8,243.94 263.7,244.38 264.7,244.83 265.6,245.28 266.6,245.72 267.5,246.16 268.5,246.60 269.5,247.05 270.4,247.48 271.4,247.92 272.3,248.36 273.3,248.80 274.2,249.23 275.2,249.66 276.2,250.09 277.1,250.53 278.1,250.95 279.0,251.38 280.0,251.81 280.9,252.24 281.9,252.66 282.9,253.09 283.8,253.51 284.8,253.93 285.7,254.35 286.7,254.77 287.7,255.19 288.6,255.61 289.6,256.03 290.5,256.45 291.5,256.87 292.4,257.29 293.4,257.71 294.4,258.13 295.3,258.55 296.3,258.97 297.2,259.38 298.2,259.80 299.1,260.22 300.1,260.64 301.1,261.07 302.0,261.49 303.0,261.91 303.9,262.33 304.9,262.76 305.8,263.18 306.8,263.61 307.8,264.03 308.7,264.46 309.7,264.89 310.6,265.32 311.6,265.75 312.5,266.18 313.5,266.62 314.5,267.05 315.4,267.49 316.4,267.93 317.3,268.37 318.3,268.81 319.2,269.25 320.2,269.69 321.2,270.13 322.1,270.58 323.1,271.02 324.0,271.47 325.0,271.92 325.9,272.37 326.9,272.82 327.9,273.27 328.8,273.72 329.8,274.17 330.7,274.63 331.7,275.08 332.7,275.53 333.6,275.98 334.6,276.44 335.5,276.89 336.5,277.34 337.4,277.79 338.4,278.25 339.4,278.70 340.3,279.15 341.3,279.60 342.2,280.04 343.2,280.49 344.1,280.93 345.1,281.38 346.1,281.82 347.0,282.26 348.0,282.69 348.9,283.13 349.9,283.56 350.8,283.99 351.8,284.41 352.8,284.84 353.7,285.26 354.7,285.67 355.6,286.09 356.6,286.50 357.5,286.90 358.5,287.30 359.5,287.70 360.4,288.09 361.4,288.48 362.3,288.87 363.3,289.25 364.2,289.63 365.2,290.00 366.2,290.37 367.1,290.73 368.1,291.09 369.0,291.44 370.0,291.79 370.9,292.13 371.9,292.47 372.9,292.80 373.8,293.13 374.8,293.45 375.7,293.77 376.7,294.09 377.6,294.39 378.6,294.70 379.6,295.00 380.5,295.29 381.5,295.58 382.4,295.86 383.4,296.14 384.4,296.41 385.3,296.68 386.3,296.94 387.2,297.20 388.2,297.46 389.1,297.71 390.1,297.95 391.1,298.19 392.0,298.43 393.0,298.66 393.9,298.88 394.9,299.11 395.8,299.32 396.8,299.54 397.8,299.75 398.7,299.95 399.7,300.15 400.6,300.35 401.6,300.54 402.5,300.73 403.5,300.91 404.5,301.09 405.4,301.27 406.4,301.45 407.3,301.62 408.3,301.78 409.2,301.94 410.2,302.10 411.2,302.26 412.1,302.41 413.1,302.56 414.0,302.71 415.0,302.85 415.9,302.99 416.9,303.13 417.9,303.26 418.8,303.39 419.8,303.52 420.7,303.65 421.7,303.77 422.6,303.89 423.6,304.01 424.6,304.12 425.5,304.23 426.5,304.34 427.4,304.45 428.4,304.56 429.3,304.66 430.3,304.76 431.3,304.86 432.2,304.95 433.2,305.05 434.1,305.14 435.1,305.23 436.1,305.32 437.0,305.40 438.0,305.49 438.9,305.57 439.9,305.65 440.8,305.73 441.8,305.80 442.8,305.88 443.7,305.95 444.7,306.02 445.6,306.09 446.6,306.16 447.5,306.23 448.5,306.29 449.5,306.36 450.4,306.42 451.4,306.48 452.3,306.54 453.3,306.60 454.2,306.65 455.2,306.71 456.2,306.76 457.1,306.82 458.1,306.87 459.0,306.92 460.0,306.97 460.9,307.02 461.9,307.07 462.9,307.11 463.8,307.16 464.8,307.20 465.7,307.24 466.7,307.29 467.6,307.33 468.6,307.37 469.6,307.41 470.5,307.45 471.5,307.48 472.4,307.52 473.4,307.56 474.3,307.59 475.3,307.63 476.3,307.66 477.2,307.69 478.2,307.72 479.1,307.76 480.1,307.79 481.0,307.82 482.0,307.85 483.0,307.87 483.9,307.90 484.9,307.93 485.8,307.96 486.8,307.98 487.8,308.01 488.7,308.03 489.7,308.06 490.6,308.08 491.6,308.10 492.5,308.13 493.5,308.15 494.5,308.17 495.4,308.19 496.4,308.21 497.3,308.23 498.3,308.25 499.2,308.27 500.2,308.29 501.2,308.31 502.1,308.33 503.1,308.34 504.0,308.36 505.0,308.38 505.9,308.40 506.9,308.41 507.9,308.43 508.8,308.44 509.8,308.46 510.7,308.47 511.7,308.49 512.6,308.50 513.6,308.51 514.6,308.53 515.5,308.54 516.5,308.55 517.4,308.57 518.4,308.58 519.3,308.59 520.3,308.60 521.3,308.61 522.2,308.62 523.2,308.63 524.1,308.65 525.1,308.66 526.0,308.67 527.0,308.68 528.0,308.69 528.9,308.69 529.9,308.70 530.8,308.71 531.8,308.72 532.8,308.73" fill="none" stroke="#ff4d4d" stroke-width="1.25" stroke-linejoin="round" clip-path="url(#cp)"/>
<polyline points="55.0,258.17 56.0,258.18 56.9,258.19 57.9,258.20 58.8,258.21 59.8,258.22 60.7,258.23 61.7,258.24 62.7,258.25 63.6,258.26 64.6,258.27 65.5,258.28 66.5,258.29 67.4,258.31 68.4,258.32 69.4,258.33 70.3,258.34 71.3,258.35 72.2,258.37 73.2,258.38 74.1,258.39 75.1,258.41 76.1,258.42 77.0,258.44 78.0,258.45 78.9,258.47 79.9,258.48 80.9,258.50 81.8,258.51 82.8,258.53 83.7,258.55 84.7,258.57 85.6,258.58 86.6,258.60 87.6,258.62 88.5,258.64 89.5,258.66 90.4,258.68 91.4,258.70 92.3,258.72 93.3,258.74 94.3,258.76 95.2,258.79 96.2,258.81 97.1,258.83 98.1,258.86 99.0,258.88 100.0,258.91 101.0,258.93 101.9,258.96 102.9,258.99 103.8,259.01 104.8,259.04 105.7,259.07 106.7,259.10 107.7,259.13 108.6,259.16 109.6,259.19 110.5,259.23 111.5,259.26 112.4,259.29 113.4,259.33 114.4,259.36 115.3,259.40 116.3,259.44 117.2,259.48 118.2,259.51 119.1,259.55 120.1,259.60 121.1,259.64 122.0,259.68 123.0,259.72 123.9,259.77 124.9,259.81 125.8,259.86 126.8,259.91 127.8,259.96 128.7,260.01 129.7,260.06 130.6,260.11 131.6,260.17 132.6,260.22 133.5,260.28 134.5,260.34 135.4,260.39 136.4,260.46 137.3,260.52 138.3,260.58 139.3,260.64 140.2,260.71 141.2,260.78 142.1,260.85 143.1,260.92 144.0,260.99 145.0,261.07 146.0,261.14 146.9,261.22 147.9,261.30 148.8,261.38 149.8,261.46 150.7,261.55 151.7,261.63 152.7,261.72 153.6,261.81 154.6,261.91 155.5,262.00 156.5,262.10 157.4,262.20 158.4,262.30 159.4,262.40 160.3,262.51 161.3,262.62 162.2,262.73 163.2,262.84 164.1,262.96 165.1,263.08 166.1,263.20 167.0,263.32 168.0,263.45 168.9,263.58 169.9,263.71 170.8,263.85 171.8,263.99 172.8,264.13 173.7,264.27 174.7,264.42 175.6,264.57 176.6,264.73 177.5,264.89 178.5,265.05 179.5,265.21 180.4,265.38 181.4,265.55 182.3,265.73 183.3,265.91 184.3,266.09 185.2,266.28 186.2,266.47 187.1,266.66 188.1,266.86 189.0,267.07 190.0,267.27 191.0,267.48 191.9,267.70 192.9,267.92 193.8,268.15 194.8,268.37 195.7,268.61 196.7,268.85 197.7,269.09 198.6,269.34 199.6,269.59 200.5,269.84 201.5,270.11 202.4,270.37 203.4,270.64 204.4,270.92 205.3,271.20 206.3,271.49 207.2,271.78 208.2,272.07 209.1,272.37 210.1,272.68 211.1,272.99 212.0,273.31 213.0,273.63 213.9,273.96 214.9,274.29 215.8,274.62 216.8,274.96 217.8,275.31 218.7,275.66 219.7,276.02 220.6,276.38 221.6,276.74 222.5,277.11 223.5,277.49 224.5,277.87 225.4,278.25 226.4,278.64 227.3,279.03 228.3,279.42 229.2,279.82 230.2,280.23 231.2,280.64 232.1,281.05 233.1,281.46 234.0,281.88 235.0,282.30 236.0,282.73 236.9,283.16 237.9,283.59 238.8,284.02 239.8,284.46 240.7,284.89 241.7,285.33 242.7,285.77 243.6,286.22 244.6,286.66 245.5,287.11 246.5,287.56 247.4,288.01 248.4,288.46 249.4,288.91 250.3,289.36 251.3,289.81 252.2,290.27 253.2,290.72 254.1,291.17 255.1,291.63 256.1,292.08 257.0,292.53 258.0,292.98 258.9,293.44 259.9,293.89 260.8,294.34 261.8,294.79 262.8,295.24 263.7,295.68 264.7,296.13 265.6,296.58 266.6,297.02 267.5,297.46 268.5,297.90 269.5,298.35 270.4,298.78 271.4,299.22 272.3,299.66 273.3,300.10 274.2,300.53 275.2,300.96 276.2,301.39 277.1,301.83 278.1,302.25 279.0,302.68 280.0,303.11 280.9,303.54 281.9,303.96 282.9,304.39 283.8,304.81 284.8,305.23 285.7,305.65 286.7,306.07 287.7,306.49 288.6,306.91 289.6,307.33 290.5,307.75 291.5,308.17 292.4,308.59 293.4,309.01 294.4,309.43 295.3,309.85 296.3,310.27 297.2,310.68 298.2,311.10 299.1,311.52 300.1,311.94 301.1,312.37 302.0,312.79 303.0,313.21 303.9,313.63 304.9,314.06 305.8,314.48 306.8,314.91 307.8,315.33 308.7,315.76 309.7,316.19 310.6,316.62 311.6,317.05 312.5,317.48 313.5,317.92 314.5,318.35 315.4,318.79 316.4,319.23 317.3,319.67 318.3,320.11 319.2,320.55 320.2,320.99 321.2,321.43 322.1,321.88 323.1,322.32 324.0,322.77 325.0,323.22 325.9,323.67 326.9,324.12 327.9,324.57 328.8,325.02 329.8,325.47 330.7,325.93 331.7,326.38 332.7,326.83 333.6,327.28 334.6,327.74 335.5,328.19 336.5,328.64 337.4,329.09 338.4,329.55 339.4,330.00 340.3,330.45 341.3,330.90 342.2,331.34 343.2,331.79 344.1,332.23 345.1,332.68 346.1,333.12 347.0,333.56 348.0,333.99 348.9,334.43 349.9,334.86 350.8,335.29 351.8,335.71 352.8,336.14 353.7,336.56 354.7,336.97 355.6,337.39 356.6,337.80 357.5,338.20 358.5,338.60 359.5,339.00 360.4,339.39 361.4,339.78 362.3,340.17 363.3,340.55 364.2,340.93 365.2,341.30 366.2,341.67 367.1,342.03 368.1,342.39 369.0,342.74 370.0,343.09 370.9,343.43 371.9,343.77 372.9,344.10 373.8,344.43 374.8,344.75 375.7,345.07 376.7,345.39 377.6,345.69 378.6,346.00 379.6,346.30 380.5,346.59 381.5,346.88 382.4,347.16 383.4,347.44 384.4,347.71 385.3,347.98 386.3,348.24 387.2,348.50 388.2,348.76 389.1,349.01 390.1,349.25 391.1,349.49 392.0,349.73 393.0,349.96 393.9,350.18 394.9,350.41 395.8,350.62 396.8,350.84 397.8,351.05 398.7,351.25 399.7,351.45 400.6,351.65 401.6,351.84 402.5,352.03 403.5,352.21 404.5,352.39 405.4,352.57 406.4,352.75 407.3,352.92 408.3,353.08 409.2,353.24 410.2,353.40 411.2,353.56 412.1,353.71 413.1,353.86 414.0,354.01 415.0,354.15 415.9,354.29 416.9,354.43 417.9,354.56 418.8,354.69 419.8,354.82 420.7,354.95 421.7,355.07 422.6,355.19 423.6,355.31 424.6,355.42 425.5,355.53 426.5,355.64 427.4,355.75 428.4,355.86 429.3,355.96 430.3,356.06 431.3,356.16 432.2,356.25 433.2,356.35 434.1,356.44 435.1,356.53 436.1,356.62 437.0,356.70 438.0,356.79 438.9,356.87 439.9,356.95 440.8,357.03 441.8,357.10 442.8,357.18 443.7,357.25 444.7,357.32 445.6,357.39 446.6,357.46 447.5,357.53 448.5,357.59 449.5,357.66 450.4,357.72 451.4,357.78 452.3,357.84 453.3,357.90 454.2,357.95 455.2,358.01 456.2,358.06 457.1,358.12 458.1,358.17 459.0,358.22 460.0,358.27 460.9,358.32 461.9,358.37 462.9,358.41 463.8,358.46 464.8,358.50 465.7,358.54 466.7,358.59 467.6,358.63 468.6,358.67 469.6,358.71 470.5,358.75 471.5,358.78 472.4,358.82 473.4,358.86 474.3,358.89 475.3,358.93 476.3,358.96 477.2,358.99 478.2,359.02 479.1,359.06 480.1,359.09 481.0,359.12 482.0,359.15 483.0,359.17 483.9,359.20 484.9,359.23 485.8,359.26 486.8,359.28 487.8,359.31 488.7,359.33 489.7,359.36 490.6,359.38 491.6,359.40 492.5,359.43 493.5,359.45 494.5,359.47 495.4,359.49 496.4,359.51 497.3,359.53 498.3,359.55 499.2,359.57 500.2,359.59 501.2,359.61 502.1,359.63 503.1,359.64 504.0,359.66 505.0,359.68 505.9,359.70 506.9,359.71 507.9,359.73 508.8,359.74 509.8,359.76 510.7,359.77 511.7,359.79 512.6,359.80 513.6,359.81 514.6,359.83 515.5,359.84 516.5,359.85 517.4,359.87 518.4,359.88 519.3,359.89 520.3,359.90 521.3,359.91 522.2,359.92 523.2,359.93 524.1,359.95 525.1,359.96 526.0,359.97 527.0,359.98 528.0,359.99 528.9,359.99 529.9,360.00 530.8,360.01 531.8,360.02 532.8,360.03" fill="none" stroke="#ff4d4d" stroke-width="1.25" stroke-linejoin="round" clip-path="url(#cp)"/>
<line x1="83.76" y1="19.72" x2="83.76" y2="22.22" stroke="#9c9c9c" stroke-width="1"/>
<line x1="83.76" y1="195.4" x2="83.76" y2="192.9" stroke="#9c9c9c" stroke-width="1"/>
<line x1="100.59" y1="19.72" x2="100.59" y2="22.22" stroke="#9c9c9c" stroke-width="1"/>
<line x1="100.59" y1="195.4" x2="100.59" y2="192.9" stroke="#9c9c9c" stroke-width="1"/>
<line x1="112.53" y1="19.72" x2="112.53" y2="22.22" stroke="#9c9c9c" stroke-width="1"/>
<line x1="112.53" y1="195.4" x2="112.53" y2="192.9" stroke="#9c9c9c" stroke-width="1"/>
<line x1="121.79" y1="19.72" x2="121.79" y2="22.22" stroke="#9c9c9c" stroke-width="1"/>
<line x1="121.79" y1="195.4" x2="121.79" y2="192.9" stroke="#9c9c9c" stroke-width="1"/>
<line x1="129.35" y1="19.72" x2="129.35" y2="22.22" stroke="#9c9c9c" stroke-width="1"/>
<line x1="129.35" y1="195.4" x2="129.35" y2="192.9" stroke="#9c9c9c" stroke-width="1"/>
<line x1="135.75" y1="19.72" x2="135.75" y2="22.22" stroke="#9c9c9c" stroke-width="1"/>
<line x1="135.75" y1="195.4" x2="135.75" y2="192.9" stroke="#9c9c9c" stroke-width="1"/>
<line x1="141.29" y1="19.72" x2="141.29" y2="22.22" stroke="#9c9c9c" stroke-width="1"/>
<line x1="141.29" y1="195.4" x2="141.29" y2="192.9" stroke="#9c9c9c" stroke-width="1"/>
<line x1="146.18" y1="19.72" x2="146.18" y2="22.22" stroke="#9c9c9c" stroke-width="1"/>
<line x1="146.18" y1="195.4" x2="146.18" y2="192.9" stroke="#9c9c9c" stroke-width="1"/>
<line x1="150.55" y1="19.72" x2="150.55" y2="23.72" stroke="#9c9c9c" stroke-width="1"/>
<line x1="150.55" y1="195.4" x2="150.55" y2="191.4" stroke="#9c9c9c" stroke-width="1"/>
<line x1="179.31" y1="19.72" x2="179.31" y2="22.22" stroke="#9c9c9c" stroke-width="1"/>
<line x1="179.31" y1="195.4" x2="179.31" y2="192.9" stroke="#9c9c9c" stroke-width="1"/>
<line x1="196.14" y1="19.72" x2="196.14" y2="22.22" stroke="#9c9c9c" stroke-width="1"/>
<line x1="196.14" y1="195.4" x2="196.14" y2="192.9" stroke="#9c9c9c" stroke-width="1"/>
<line x1="208.08" y1="19.72" x2="208.08" y2="22.22" stroke="#9c9c9c" stroke-width="1"/>
<line x1="208.08" y1="195.4" x2="208.08" y2="192.9" stroke="#9c9c9c" stroke-width="1"/>
<line x1="217.34" y1="19.72" x2="217.34" y2="22.22" stroke="#9c9c9c" stroke-width="1"/>
<line x1="217.34" y1="195.4" x2="217.34" y2="192.9" stroke="#9c9c9c" stroke-width="1"/>
<line x1="224.90" y1="19.72" x2="224.90" y2="22.22" stroke="#9c9c9c" stroke-width="1"/>
<line x1="224.90" y1="195.4" x2="224.90" y2="192.9" stroke="#9c9c9c" stroke-width="1"/>
<line x1="231.30" y1="19.72" x2="231.30" y2="22.22" stroke="#9c9c9c" stroke-width="1"/>
<line x1="231.30" y1="195.4" x2="231.30" y2="192.9" stroke="#9c9c9c" stroke-width="1"/>
<line x1="236.84" y1="19.72" x2="236.84" y2="22.22" stroke="#9c9c9c" stroke-width="1"/>
<line x1="236.84" y1="195.4" x2="236.84" y2="192.9" stroke="#9c9c9c" stroke-width="1"/>
<line x1="241.73" y1="19.72" x2="241.73" y2="22.22" stroke="#9c9c9c" stroke-width="1"/>
<line x1="241.73" y1="195.4" x2="241.73" y2="192.9" stroke="#9c9c9c" stroke-width="1"/>
<line x1="246.10" y1="19.72" x2="246.10" y2="23.72" stroke="#9c9c9c" stroke-width="1"/>
<line x1="246.10" y1="195.4" x2="246.10" y2="191.4" stroke="#9c9c9c" stroke-width="1"/>
<line x1="274.86" y1="19.72" x2="274.86" y2="22.22" stroke="#9c9c9c" stroke-width="1"/>
<line x1="274.86" y1="195.4" x2="274.86" y2="192.9" stroke="#9c9c9c" stroke-width="1"/>
<line x1="291.69" y1="19.72" x2="291.69" y2="22.22" stroke="#9c9c9c" stroke-width="1"/>
<line x1="291.69" y1="195.4" x2="291.69" y2="192.9" stroke="#9c9c9c" stroke-width="1"/>
<line x1="303.63" y1="19.72" x2="303.63" y2="22.22" stroke="#9c9c9c" stroke-width="1"/>
<line x1="303.63" y1="195.4" x2="303.63" y2="192.9" stroke="#9c9c9c" stroke-width="1"/>
<line x1="312.89" y1="19.72" x2="312.89" y2="22.22" stroke="#9c9c9c" stroke-width="1"/>
<line x1="312.89" y1="195.4" x2="312.89" y2="192.9" stroke="#9c9c9c" stroke-width="1"/>
<line x1="320.45" y1="19.72" x2="320.45" y2="22.22" stroke="#9c9c9c" stroke-width="1"/>
<line x1="320.45" y1="195.4" x2="320.45" y2="192.9" stroke="#9c9c9c" stroke-width="1"/>
<line x1="326.85" y1="19.72" x2="326.85" y2="22.22" stroke="#9c9c9c" stroke-width="1"/>
<line x1="326.85" y1="195.4" x2="326.85" y2="192.9" stroke="#9c9c9c" stroke-width="1"/>
<line x1="332.39" y1="19.72" x2="332.39" y2="22.22" stroke="#9c9c9c" stroke-width="1"/>
<line x1="332.39" y1="195.4" x2="332.39" y2="192.9" stroke="#9c9c9c" stroke-width="1"/>
<line x1="337.28" y1="19.72" x2="337.28" y2="22.22" stroke="#9c9c9c" stroke-width="1"/>
<line x1="337.28" y1="195.4" x2="337.28" y2="192.9" stroke="#9c9c9c" stroke-width="1"/>
<line x1="341.65" y1="19.72" x2="341.65" y2="23.72" stroke="#9c9c9c" stroke-width="1"/>
<line x1="341.65" y1="195.4" x2="341.65" y2="191.4" stroke="#9c9c9c" stroke-width="1"/>
<line x1="370.41" y1="19.72" x2="370.41" y2="22.22" stroke="#9c9c9c" stroke-width="1"/>
<line x1="370.41" y1="195.4" x2="370.41" y2="192.9" stroke="#9c9c9c" stroke-width="1"/>
<line x1="387.24" y1="19.72" x2="387.24" y2="22.22" stroke="#9c9c9c" stroke-width="1"/>
<line x1="387.24" y1="195.4" x2="387.24" y2="192.9" stroke="#9c9c9c" stroke-width="1"/>
<line x1="399.18" y1="19.72" x2="399.18" y2="22.22" stroke="#9c9c9c" stroke-width="1"/>
<line x1="399.18" y1="195.4" x2="399.18" y2="192.9" stroke="#9c9c9c" stroke-width="1"/>
<line x1="408.44" y1="19.72" x2="408.44" y2="22.22" stroke="#9c9c9c" stroke-width="1"/>
<line x1="408.44" y1="195.4" x2="408.44" y2="192.9" stroke="#9c9c9c" stroke-width="1"/>
<line x1="416.00" y1="19.72" x2="416.00" y2="22.22" stroke="#9c9c9c" stroke-width="1"/>
<line x1="416.00" y1="195.4" x2="416.00" y2="192.9" stroke="#9c9c9c" stroke-width="1"/>
<line x1="422.40" y1="19.72" x2="422.40" y2="22.22" stroke="#9c9c9c" stroke-width="1"/>
<line x1="422.40" y1="195.4" x2="422.40" y2="192.9" stroke="#9c9c9c" stroke-width="1"/>
<line x1="427.94" y1="19.72" x2="427.94" y2="22.22" stroke="#9c9c9c" stroke-width="1"/>
<line x1="427.94" y1="195.4" x2="427.94" y2="192.9" stroke="#9c9c9c" stroke-width="1"/>
<line x1="432.83" y1="19.72" x2="432.83" y2="22.22" stroke="#9c9c9c" stroke-width="1"/>
<line x1="432.83" y1="195.4" x2="432.83" y2="192.9" stroke="#9c9c9c" stroke-width="1"/>
<line x1="437.20" y1="19.72" x2="437.20" y2="23.72" stroke="#9c9c9c" stroke-width="1"/>
<line x1="437.20" y1="195.4" x2="437.20" y2="191.4" stroke="#9c9c9c" stroke-width="1"/>
<line x1="465.96" y1="19.72" x2="465.96" y2="22.22" stroke="#9c9c9c" stroke-width="1"/>
<line x1="465.96" y1="195.4" x2="465.96" y2="192.9" stroke="#9c9c9c" stroke-width="1"/>
<line x1="482.79" y1="19.72" x2="482.79" y2="22.22" stroke="#9c9c9c" stroke-width="1"/>
<line x1="482.79" y1="195.4" x2="482.79" y2="192.9" stroke="#9c9c9c" stroke-width="1"/>
<line x1="494.73" y1="19.72" x2="494.73" y2="22.22" stroke="#9c9c9c" stroke-width="1"/>
<line x1="494.73" y1="195.4" x2="494.73" y2="192.9" stroke="#9c9c9c" stroke-width="1"/>
<line x1="503.99" y1="19.72" x2="503.99" y2="22.22" stroke="#9c9c9c" stroke-width="1"/>
<line x1="503.99" y1="195.4" x2="503.99" y2="192.9" stroke="#9c9c9c" stroke-width="1"/>
<line x1="511.55" y1="19.72" x2="511.55" y2="22.22" stroke="#9c9c9c" stroke-width="1"/>
<line x1="511.55" y1="195.4" x2="511.55" y2="192.9" stroke="#9c9c9c" stroke-width="1"/>
<line x1="517.95" y1="19.72" x2="517.95" y2="22.22" stroke="#9c9c9c" stroke-width="1"/>
<line x1="517.95" y1="195.4" x2="517.95" y2="192.9" stroke="#9c9c9c" stroke-width="1"/>
<line x1="523.49" y1="19.72" x2="523.49" y2="22.22" stroke="#9c9c9c" stroke-width="1"/>
<line x1="523.49" y1="195.4" x2="523.49" y2="192.9" stroke="#9c9c9c" stroke-width="1"/>
<line x1="528.38" y1="19.72" x2="528.38" y2="22.22" stroke="#9c9c9c" stroke-width="1"/>
<line x1="528.38" y1="195.4" x2="528.38" y2="192.9" stroke="#9c9c9c" stroke-width="1"/>
<line x1="55.0" y1="49.00" x2="59.0" y2="49.00" stroke="#9c9c9c" stroke-width="1"/>
<line x1="532.75" y1="49.00" x2="528.75" y2="49.00" stroke="#9c9c9c" stroke-width="1"/>
<line x1="55.0" y1="78.28" x2="59.0" y2="78.28" stroke="#9c9c9c" stroke-width="1"/>
<line x1="532.75" y1="78.28" x2="528.75" y2="78.28" stroke="#9c9c9c" stroke-width="1"/>
<line x1="55.0" y1="107.56" x2="59.0" y2="107.56" stroke="#9c9c9c" stroke-width="1"/>
<line x1="532.75" y1="107.56" x2="528.75" y2="107.56" stroke="#9c9c9c" stroke-width="1"/>
<line x1="55.0" y1="136.84" x2="59.0" y2="136.84" stroke="#9c9c9c" stroke-width="1"/>
<line x1="532.75" y1="136.84" x2="528.75" y2="136.84" stroke="#9c9c9c" stroke-width="1"/>
<line x1="55.0" y1="166.12" x2="59.0" y2="166.12" stroke="#9c9c9c" stroke-width="1"/>
<line x1="532.75" y1="166.12" x2="528.75" y2="166.12" stroke="#9c9c9c" stroke-width="1"/>
<line x1="55.0" y1="195.40" x2="59.0" y2="195.40" stroke="#9c9c9c" stroke-width="1"/>
<line x1="532.75" y1="195.40" x2="528.75" y2="195.40" stroke="#9c9c9c" stroke-width="1"/>
<rect x="55.0" y="19.72" width="477.75" height="175.68" fill="none" stroke="#9c9c9c" stroke-width="1.1"/>
<line x1="83.76" y1="206.5" x2="83.76" y2="209.0" stroke="#9c9c9c" stroke-width="1"/>
<line x1="83.76" y1="360.4" x2="83.76" y2="357.9" stroke="#9c9c9c" stroke-width="1"/>
<line x1="100.59" y1="206.5" x2="100.59" y2="209.0" stroke="#9c9c9c" stroke-width="1"/>
<line x1="100.59" y1="360.4" x2="100.59" y2="357.9" stroke="#9c9c9c" stroke-width="1"/>
<line x1="112.53" y1="206.5" x2="112.53" y2="209.0" stroke="#9c9c9c" stroke-width="1"/>
<line x1="112.53" y1="360.4" x2="112.53" y2="357.9" stroke="#9c9c9c" stroke-width="1"/>
<line x1="121.79" y1="206.5" x2="121.79" y2="209.0" stroke="#9c9c9c" stroke-width="1"/>
<line x1="121.79" y1="360.4" x2="121.79" y2="357.9" stroke="#9c9c9c" stroke-width="1"/>
<line x1="129.35" y1="206.5" x2="129.35" y2="209.0" stroke="#9c9c9c" stroke-width="1"/>
<line x1="129.35" y1="360.4" x2="129.35" y2="357.9" stroke="#9c9c9c" stroke-width="1"/>
<line x1="135.75" y1="206.5" x2="135.75" y2="209.0" stroke="#9c9c9c" stroke-width="1"/>
<line x1="135.75" y1="360.4" x2="135.75" y2="357.9" stroke="#9c9c9c" stroke-width="1"/>
<line x1="141.29" y1="206.5" x2="141.29" y2="209.0" stroke="#9c9c9c" stroke-width="1"/>
<line x1="141.29" y1="360.4" x2="141.29" y2="357.9" stroke="#9c9c9c" stroke-width="1"/>
<line x1="146.18" y1="206.5" x2="146.18" y2="209.0" stroke="#9c9c9c" stroke-width="1"/>
<line x1="146.18" y1="360.4" x2="146.18" y2="357.9" stroke="#9c9c9c" stroke-width="1"/>
<line x1="150.55" y1="206.5" x2="150.55" y2="210.5" stroke="#9c9c9c" stroke-width="1"/>
<line x1="150.55" y1="360.4" x2="150.55" y2="356.4" stroke="#9c9c9c" stroke-width="1"/>
<line x1="179.31" y1="206.5" x2="179.31" y2="209.0" stroke="#9c9c9c" stroke-width="1"/>
<line x1="179.31" y1="360.4" x2="179.31" y2="357.9" stroke="#9c9c9c" stroke-width="1"/>
<line x1="196.14" y1="206.5" x2="196.14" y2="209.0" stroke="#9c9c9c" stroke-width="1"/>
<line x1="196.14" y1="360.4" x2="196.14" y2="357.9" stroke="#9c9c9c" stroke-width="1"/>
<line x1="208.08" y1="206.5" x2="208.08" y2="209.0" stroke="#9c9c9c" stroke-width="1"/>
<line x1="208.08" y1="360.4" x2="208.08" y2="357.9" stroke="#9c9c9c" stroke-width="1"/>
<line x1="217.34" y1="206.5" x2="217.34" y2="209.0" stroke="#9c9c9c" stroke-width="1"/>
<line x1="217.34" y1="360.4" x2="217.34" y2="357.9" stroke="#9c9c9c" stroke-width="1"/>
<line x1="224.90" y1="206.5" x2="224.90" y2="209.0" stroke="#9c9c9c" stroke-width="1"/>
<line x1="224.90" y1="360.4" x2="224.90" y2="357.9" stroke="#9c9c9c" stroke-width="1"/>
<line x1="231.30" y1="206.5" x2="231.30" y2="209.0" stroke="#9c9c9c" stroke-width="1"/>
<line x1="231.30" y1="360.4" x2="231.30" y2="357.9" stroke="#9c9c9c" stroke-width="1"/>
<line x1="236.84" y1="206.5" x2="236.84" y2="209.0" stroke="#9c9c9c" stroke-width="1"/>
<line x1="236.84" y1="360.4" x2="236.84" y2="357.9" stroke="#9c9c9c" stroke-width="1"/>
<line x1="241.73" y1="206.5" x2="241.73" y2="209.0" stroke="#9c9c9c" stroke-width="1"/>
<line x1="241.73" y1="360.4" x2="241.73" y2="357.9" stroke="#9c9c9c" stroke-width="1"/>
<line x1="246.10" y1="206.5" x2="246.10" y2="210.5" stroke="#9c9c9c" stroke-width="1"/>
<line x1="246.10" y1="360.4" x2="246.10" y2="356.4" stroke="#9c9c9c" stroke-width="1"/>
<line x1="274.86" y1="206.5" x2="274.86" y2="209.0" stroke="#9c9c9c" stroke-width="1"/>
<line x1="274.86" y1="360.4" x2="274.86" y2="357.9" stroke="#9c9c9c" stroke-width="1"/>
<line x1="291.69" y1="206.5" x2="291.69" y2="209.0" stroke="#9c9c9c" stroke-width="1"/>
<line x1="291.69" y1="360.4" x2="291.69" y2="357.9" stroke="#9c9c9c" stroke-width="1"/>
<line x1="303.63" y1="206.5" x2="303.63" y2="209.0" stroke="#9c9c9c" stroke-width="1"/>
<line x1="303.63" y1="360.4" x2="303.63" y2="357.9" stroke="#9c9c9c" stroke-width="1"/>
<line x1="312.89" y1="206.5" x2="312.89" y2="209.0" stroke="#9c9c9c" stroke-width="1"/>
<line x1="312.89" y1="360.4" x2="312.89" y2="357.9" stroke="#9c9c9c" stroke-width="1"/>
<line x1="320.45" y1="206.5" x2="320.45" y2="209.0" stroke="#9c9c9c" stroke-width="1"/>
<line x1="320.45" y1="360.4" x2="320.45" y2="357.9" stroke="#9c9c9c" stroke-width="1"/>
<line x1="326.85" y1="206.5" x2="326.85" y2="209.0" stroke="#9c9c9c" stroke-width="1"/>
<line x1="326.85" y1="360.4" x2="326.85" y2="357.9" stroke="#9c9c9c" stroke-width="1"/>
<line x1="332.39" y1="206.5" x2="332.39" y2="209.0" stroke="#9c9c9c" stroke-width="1"/>
<line x1="332.39" y1="360.4" x2="332.39" y2="357.9" stroke="#9c9c9c" stroke-width="1"/>
<line x1="337.28" y1="206.5" x2="337.28" y2="209.0" stroke="#9c9c9c" stroke-width="1"/>
<line x1="337.28" y1="360.4" x2="337.28" y2="357.9" stroke="#9c9c9c" stroke-width="1"/>
<line x1="341.65" y1="206.5" x2="341.65" y2="210.5" stroke="#9c9c9c" stroke-width="1"/>
<line x1="341.65" y1="360.4" x2="341.65" y2="356.4" stroke="#9c9c9c" stroke-width="1"/>
<line x1="370.41" y1="206.5" x2="370.41" y2="209.0" stroke="#9c9c9c" stroke-width="1"/>
<line x1="370.41" y1="360.4" x2="370.41" y2="357.9" stroke="#9c9c9c" stroke-width="1"/>
<line x1="387.24" y1="206.5" x2="387.24" y2="209.0" stroke="#9c9c9c" stroke-width="1"/>
<line x1="387.24" y1="360.4" x2="387.24" y2="357.9" stroke="#9c9c9c" stroke-width="1"/>
<line x1="399.18" y1="206.5" x2="399.18" y2="209.0" stroke="#9c9c9c" stroke-width="1"/>
<line x1="399.18" y1="360.4" x2="399.18" y2="357.9" stroke="#9c9c9c" stroke-width="1"/>
<line x1="408.44" y1="206.5" x2="408.44" y2="209.0" stroke="#9c9c9c" stroke-width="1"/>
<line x1="408.44" y1="360.4" x2="408.44" y2="357.9" stroke="#9c9c9c" stroke-width="1"/>
<line x1="416.00" y1="206.5" x2="416.00" y2="209.0" stroke="#9c9c9c" stroke-width="1"/>
<line x1="416.00" y1="360.4" x2="416.00" y2="357.9" stroke="#9c9c9c" stroke-width="1"/>
<line x1="422.40" y1="206.5" x2="422.40" y2="209.0" stroke="#9c9c9c" stroke-width="1"/>
<line x1="422.40" y1="360.4" x2="422.40" y2="357.9" stroke="#9c9c9c" stroke-width="1"/>
<line x1="427.94" y1="206.5" x2="427.94" y2="209.0" stroke="#9c9c9c" stroke-width="1"/>
<line x1="427.94" y1="360.4" x2="427.94" y2="357.9" stroke="#9c9c9c" stroke-width="1"/>
<line x1="432.83" y1="206.5" x2="432.83" y2="209.0" stroke="#9c9c9c" stroke-width="1"/>
<line x1="432.83" y1="360.4" x2="432.83" y2="357.9" stroke="#9c9c9c" stroke-width="1"/>
<line x1="437.20" y1="206.5" x2="437.20" y2="210.5" stroke="#9c9c9c" stroke-width="1"/>
<line x1="437.20" y1="360.4" x2="437.20" y2="356.4" stroke="#9c9c9c" stroke-width="1"/>
<line x1="465.96" y1="206.5" x2="465.96" y2="209.0" stroke="#9c9c9c" stroke-width="1"/>
<line x1="465.96" y1="360.4" x2="465.96" y2="357.9" stroke="#9c9c9c" stroke-width="1"/>
<line x1="482.79" y1="206.5" x2="482.79" y2="209.0" stroke="#9c9c9c" stroke-width="1"/>
<line x1="482.79" y1="360.4" x2="482.79" y2="357.9" stroke="#9c9c9c" stroke-width="1"/>
<line x1="494.73" y1="206.5" x2="494.73" y2="209.0" stroke="#9c9c9c" stroke-width="1"/>
<line x1="494.73" y1="360.4" x2="494.73" y2="357.9" stroke="#9c9c9c" stroke-width="1"/>
<line x1="503.99" y1="206.5" x2="503.99" y2="209.0" stroke="#9c9c9c" stroke-width="1"/>
<line x1="503.99" y1="360.4" x2="503.99" y2="357.9" stroke="#9c9c9c" stroke-width="1"/>
<line x1="511.55" y1="206.5" x2="511.55" y2="209.0" stroke="#9c9c9c" stroke-width="1"/>
<line x1="511.55" y1="360.4" x2="511.55" y2="357.9" stroke="#9c9c9c" stroke-width="1"/>
<line x1="517.95" y1="206.5" x2="517.95" y2="209.0" stroke="#9c9c9c" stroke-width="1"/>
<line x1="517.95" y1="360.4" x2="517.95" y2="357.9" stroke="#9c9c9c" stroke-width="1"/>
<line x1="523.49" y1="206.5" x2="523.49" y2="209.0" stroke="#9c9c9c" stroke-width="1"/>
<line x1="523.49" y1="360.4" x2="523.49" y2="357.9" stroke="#9c9c9c" stroke-width="1"/>
<line x1="528.38" y1="206.5" x2="528.38" y2="209.0" stroke="#9c9c9c" stroke-width="1"/>
<line x1="528.38" y1="360.4" x2="528.38" y2="357.9" stroke="#9c9c9c" stroke-width="1"/>
<line x1="55.0" y1="206.50" x2="59.0" y2="206.50" stroke="#9c9c9c" stroke-width="1"/>
<line x1="532.75" y1="206.50" x2="528.75" y2="206.50" stroke="#9c9c9c" stroke-width="1"/>
<line x1="55.0" y1="232.15" x2="59.0" y2="232.15" stroke="#9c9c9c" stroke-width="1"/>
<line x1="532.75" y1="232.15" x2="528.75" y2="232.15" stroke="#9c9c9c" stroke-width="1"/>
<line x1="55.0" y1="257.80" x2="59.0" y2="257.80" stroke="#9c9c9c" stroke-width="1"/>
<line x1="532.75" y1="257.80" x2="528.75" y2="257.80" stroke="#9c9c9c" stroke-width="1"/>
<line x1="55.0" y1="283.45" x2="59.0" y2="283.45" stroke="#9c9c9c" stroke-width="1"/>
<line x1="532.75" y1="283.45" x2="528.75" y2="283.45" stroke="#9c9c9c" stroke-width="1"/>
<line x1="55.0" y1="309.10" x2="59.0" y2="309.10" stroke="#9c9c9c" stroke-width="1"/>
<line x1="532.75" y1="309.10" x2="528.75" y2="309.10" stroke="#9c9c9c" stroke-width="1"/>
<line x1="55.0" y1="334.75" x2="59.0" y2="334.75" stroke="#9c9c9c" stroke-width="1"/>
<line x1="532.75" y1="334.75" x2="528.75" y2="334.75" stroke="#9c9c9c" stroke-width="1"/>
<line x1="55.0" y1="360.40" x2="59.0" y2="360.40" stroke="#9c9c9c" stroke-width="1"/>
<line x1="532.75" y1="360.40" x2="528.75" y2="360.40" stroke="#9c9c9c" stroke-width="1"/>
<rect x="55.0" y="206.5" width="477.75" height="153.89999999999998" fill="none" stroke="#9c9c9c" stroke-width="1.1"/>
<text x="49.9" y="53.5" font-size="10.5" text-anchor="end" style="font-family:'Liberation Sans',sans-serif" fill="#6e6e6e">0</text>
<text x="51.6" y="81.2" font-size="10.5" text-anchor="end" style="font-family:'Liberation Sans',sans-serif" fill="#6e6e6e">−20</text>
<text x="51.7" y="110.7" font-size="10.5" text-anchor="end" style="font-family:'Liberation Sans',sans-serif" fill="#6e6e6e">−40</text>
<text x="50.9" y="140.3" font-size="10.5" text-anchor="end" style="font-family:'Liberation Sans',sans-serif" fill="#6e6e6e">−60</text>
<text x="52.3" y="168.7" font-size="10.5" text-anchor="end" style="font-family:'Liberation Sans',sans-serif" fill="#6e6e6e">−80</text>
<text x="52.2" y="198.0" font-size="10.5" text-anchor="end" style="font-family:'Liberation Sans',sans-serif" fill="#6e6e6e">−100</text>
<text x="49.8" y="211.7" font-size="10.5" text-anchor="end" style="font-family:'Liberation Sans',sans-serif" fill="#6e6e6e">90</text>
<text x="49.8" y="237.0" font-size="10.5" text-anchor="end" style="font-family:'Liberation Sans',sans-serif" fill="#6e6e6e">45</text>
<text x="49.8" y="262.2" font-size="10.5" text-anchor="end" style="font-family:'Liberation Sans',sans-serif" fill="#6e6e6e">0</text>
<text x="50.3" y="286.5" font-size="10.5" text-anchor="end" style="font-family:'Liberation Sans',sans-serif" fill="#6e6e6e">−45</text>
<text x="51.7" y="312.3" font-size="10.5" text-anchor="end" style="font-family:'Liberation Sans',sans-serif" fill="#6e6e6e">−90</text>
<text x="52.4" y="337.7" font-size="10.5" text-anchor="end" style="font-family:'Liberation Sans',sans-serif" fill="#6e6e6e">−135</text>
<text x="52.4" y="364.5" font-size="10.5" text-anchor="end" style="font-family:'Liberation Sans',sans-serif" fill="#6e6e6e">−180</text>
<text x="52.60" y="380.7" font-size="10.5" text-anchor="middle" style="font-family:'Liberation Sans',sans-serif" fill="#6e6e6e">10</text>
<text x="58.60" y="375.5" font-size="7.5" style="font-family:'Liberation Sans',sans-serif" fill="#6e6e6e">0</text>
<text x="148.15" y="380.7" font-size="10.5" text-anchor="middle" style="font-family:'Liberation Sans',sans-serif" fill="#6e6e6e">10</text>
<text x="154.15" y="375.5" font-size="7.5" style="font-family:'Liberation Sans',sans-serif" fill="#6e6e6e">1</text>
<text x="243.70" y="380.7" font-size="10.5" text-anchor="middle" style="font-family:'Liberation Sans',sans-serif" fill="#6e6e6e">10</text>
<text x="249.70" y="375.5" font-size="7.5" style="font-family:'Liberation Sans',sans-serif" fill="#6e6e6e">2</text>
<text x="339.25" y="380.7" font-size="10.5" text-anchor="middle" style="font-family:'Liberation Sans',sans-serif" fill="#6e6e6e">10</text>
<text x="345.25" y="375.5" font-size="7.5" style="font-family:'Liberation Sans',sans-serif" fill="#6e6e6e">3</text>
<text x="434.80" y="380.7" font-size="10.5" text-anchor="middle" style="font-family:'Liberation Sans',sans-serif" fill="#6e6e6e">10</text>
<text x="440.80" y="375.5" font-size="7.5" style="font-family:'Liberation Sans',sans-serif" fill="#6e6e6e">4</text>
<text x="530.35" y="380.7" font-size="10.5" text-anchor="middle" style="font-family:'Liberation Sans',sans-serif" fill="#6e6e6e">10</text>
<text x="536.35" y="375.5" font-size="7.5" style="font-family:'Liberation Sans',sans-serif" fill="#6e6e6e">5</text>
<text x="292.7" y="15.5" font-size="12" text-anchor="middle" style="font-family:'Liberation Sans',sans-serif" fill="#202020" stroke="#202020" stroke-width="0.2">Bode Diagram</text>
<text x="299.3" y="389.9" font-size="11" text-anchor="middle" xml:space="preserve" style="font-family:'Liberation Sans',sans-serif" fill="#202020" stroke="#202020" stroke-width="0.2">Frequency  (Hz)</text>
<text transform="translate(21.5,107.4) rotate(-90)" font-size="12.3" text-anchor="middle" style="font-family:'Liberation Sans',sans-serif" fill="#202020" stroke="#202020" stroke-width="0.2">Magnitude (dB)</text>
<text transform="translate(21.5,282.6) rotate(-90)" font-size="12.3" text-anchor="middle" style="font-family:'Liberation Sans',sans-serif" fill="#202020" stroke="#202020" stroke-width="0.2">Phase (deg)</text>
<text x="61.5" y="57.0" textLength="54.6" lengthAdjust="spacingAndGlyphs" style="font-family:'Liberation Sans',sans-serif" fill="#111" stroke="#111" stroke-width="0.2" font-size="13.2">SOGI-LPF</text>
<text x="58.3" y="131.7" textLength="56.3" lengthAdjust="spacingAndGlyphs" style="font-family:'Liberation Sans',sans-serif" fill="#111" stroke="#111" stroke-width="0.2" font-size="13.2">SOGI-BPF</text>
<text x="57.0" y="219.6" textLength="57.0" lengthAdjust="spacingAndGlyphs" style="font-family:'Liberation Sans',sans-serif" fill="#111" stroke="#111" stroke-width="0.2" font-size="13.2">SOGI-BPF</text>
<text x="56.3" y="272.9" textLength="54.0" lengthAdjust="spacingAndGlyphs" style="font-family:'Liberation Sans',sans-serif" fill="#111" stroke="#111" stroke-width="0.2" font-size="13.2">SOGI-LPF</text>
<rect x="243.3" y="86.9" width="55.50" height="25.60" fill="#d4d4d4"/>
<text x="248.90" y="103.60" font-size="11.6" font-style="italic" stroke="#1e1e1e" stroke-width="0.35" style="font-family:'Liberation Serif',serif" fill="#1e1e1e">ζ</text>
<text x="254.80" y="106.20" font-size="6.4" stroke="#1e1e1e" stroke-width="0.15" style="font-family:'Liberation Serif',serif" fill="#1e1e1e">1</text>
<text x="262.10" y="105.40" font-size="12" stroke="#1e1e1e" stroke-width="0.25" textLength="8.20" lengthAdjust="spacingAndGlyphs" style="font-family:'Liberation Serif',serif" fill="#1e1e1e">=</text>
<text x="272.50" y="103.60" font-size="11.6" stroke="#1e1e1e" stroke-width="0.38" textLength="22.60" lengthAdjust="spacingAndGlyphs" style="font-family:'Liberation Serif',serif" fill="#1e1e1e">0.35</text>
<line x1="299.4" y1="94.9" x2="338.27" y2="78.43" stroke="#1f283c" stroke-width="1.15"/>
<polygon points="341.4,77.1 338.93,79.99 337.61,76.86" fill="#1f283c"/>
<rect x="297.0" y="125.9" width="57.00" height="25.80" fill="#d4d4d4"/>
<text x="301.10" y="142.60" font-size="11.6" font-style="italic" stroke="#1e1e1e" stroke-width="0.35" style="font-family:'Liberation Serif',serif" fill="#1e1e1e">ζ</text>
<text x="307.40" y="145.20" font-size="6.4" stroke="#1e1e1e" stroke-width="0.15" style="font-family:'Liberation Serif',serif" fill="#1e1e1e">2</text>
<text x="314.90" y="144.40" font-size="12" stroke="#1e1e1e" stroke-width="0.25" textLength="7.40" lengthAdjust="spacingAndGlyphs" style="font-family:'Liberation Serif',serif" fill="#1e1e1e">=</text>
<text x="324.90" y="142.60" font-size="11.6" stroke="#1e1e1e" stroke-width="0.38" textLength="27.30" lengthAdjust="spacingAndGlyphs" style="font-family:'Liberation Serif',serif" fill="#1e1e1e">0.707</text>
<line x1="335.1" y1="126.3" x2="382.35" y2="95.75" stroke="#1f283c" stroke-width="1.15"/>
<polygon points="385.2,93.9 383.27,97.17 381.42,94.32" fill="#1f283c"/>
<rect x="354.5" y="163.3" width="58.50" height="19.70" fill="#d4d4d4"/>
<text x="364.00" y="176.60" font-size="11.6" font-style="italic" stroke="#1e1e1e" stroke-width="0.35" style="font-family:'Liberation Serif',serif" fill="#1e1e1e">ζ</text>
<text x="370.50" y="179.20" font-size="6.4" stroke="#1e1e1e" stroke-width="0.15" style="font-family:'Liberation Serif',serif" fill="#1e1e1e">3</text>
<text x="376.90" y="178.40" font-size="12" stroke="#1e1e1e" stroke-width="0.25" textLength="7.30" lengthAdjust="spacingAndGlyphs" style="font-family:'Liberation Serif',serif" fill="#1e1e1e">=</text>
<text x="385.30" y="176.60" font-size="11.6" stroke="#1e1e1e" stroke-width="0.2" textLength="14.80" lengthAdjust="spacingAndGlyphs" style="font-family:'Liberation Serif',serif" fill="#1e1e1e">0.9</text>
<line x1="386.3" y1="162.9" x2="435.91" y2="120.70" stroke="#1f283c" stroke-width="1.15"/>
<polygon points="438.5,118.5 437.01,122.00 434.81,119.41" fill="#1f283c"/>
<rect x="306.1" y="209.1" width="55.90" height="25.60" fill="#d4d4d4"/>
<text x="311.40" y="227.10" font-size="11.6" font-style="italic" stroke="#1e1e1e" stroke-width="0.35" style="font-family:'Liberation Serif',serif" fill="#1e1e1e">ζ</text>
<text x="318.00" y="229.70" font-size="6.4" stroke="#1e1e1e" stroke-width="0.15" style="font-family:'Liberation Serif',serif" fill="#1e1e1e">1</text>
<text x="324.10" y="228.90" font-size="12" stroke="#1e1e1e" stroke-width="0.25" textLength="8.20" lengthAdjust="spacingAndGlyphs" style="font-family:'Liberation Serif',serif" fill="#1e1e1e">=</text>
<text x="334.80" y="227.10" font-size="11.6" stroke="#1e1e1e" stroke-width="0.15" textLength="22.90" lengthAdjust="spacingAndGlyphs" style="font-family:'Liberation Serif',serif" fill="#1e1e1e">0.35</text>
<line x1="305.8" y1="221.8" x2="277.67" y2="235.14" stroke="#1f283c" stroke-width="1.15"/>
<polygon points="274.6,236.6 276.94,233.61 278.40,236.68" fill="#1f283c"/>
<rect x="383.9" y="230.2" width="57.20" height="25.50" fill="#d4d4d4"/>
<text x="387.80" y="246.80" font-size="11.6" font-style="italic" stroke="#1e1e1e" stroke-width="0.35" style="font-family:'Liberation Serif',serif" fill="#1e1e1e">ζ</text>
<text x="394.90" y="249.40" font-size="6.4" stroke="#1e1e1e" stroke-width="0.15" style="font-family:'Liberation Serif',serif" fill="#1e1e1e">2</text>
<text x="402.40" y="248.60" font-size="12" stroke="#1e1e1e" stroke-width="0.25" textLength="7.30" lengthAdjust="spacingAndGlyphs" style="font-family:'Liberation Serif',serif" fill="#1e1e1e">=</text>
<text x="411.70" y="246.80" font-size="11.6" stroke="#1e1e1e" stroke-width="0.38" textLength="27.80" lengthAdjust="spacingAndGlyphs" style="font-family:'Liberation Serif',serif" fill="#1e1e1e">0.707</text>
<line x1="382.9" y1="250.6" x2="330.78" y2="275.06" stroke="#1f283c" stroke-width="1.15"/>
<polygon points="327.7,276.5 330.06,273.52 331.50,276.59" fill="#1f283c"/>
<rect x="425.2" y="261.8" width="58.40" height="19.80" fill="#d4d4d4"/>
<text x="434.60" y="275.40" font-size="11.6" font-style="italic" stroke="#1e1e1e" stroke-width="0.35" style="font-family:'Liberation Serif',serif" fill="#1e1e1e">ζ</text>
<text x="441.30" y="278.00" font-size="6.4" stroke="#1e1e1e" stroke-width="0.15" style="font-family:'Liberation Serif',serif" fill="#1e1e1e">3</text>
<text x="447.40" y="277.20" font-size="12" stroke="#1e1e1e" stroke-width="0.25" textLength="7.70" lengthAdjust="spacingAndGlyphs" style="font-family:'Liberation Serif',serif" fill="#1e1e1e">=</text>
<text x="455.90" y="275.40" font-size="11.6" stroke="#1e1e1e" stroke-width="0.2" textLength="15.20" lengthAdjust="spacingAndGlyphs" style="font-family:'Liberation Serif',serif" fill="#1e1e1e">0.9</text>
<line x1="421.5" y1="274.8" x2="386.22" y2="293.04" stroke="#1f283c" stroke-width="1.15"/>
<polygon points="383.2,294.6 385.44,291.53 387.00,294.55" fill="#1f283c"/>
</svg></body></html>
